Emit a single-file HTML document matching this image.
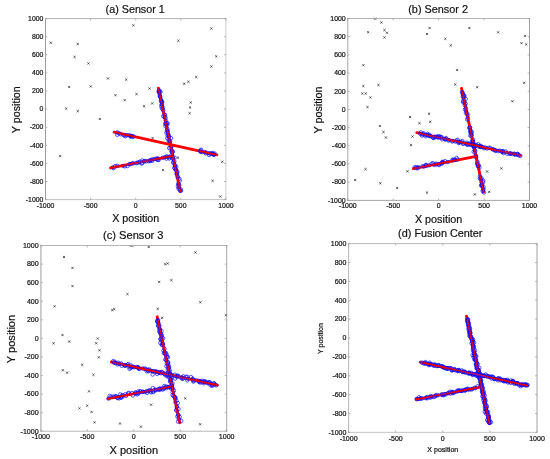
<!DOCTYPE html>
<html><head><meta charset="utf-8"><title>Sensor tracks</title>
<style>html,body{margin:0;padding:0;background:#fff}body{width:550px;height:459px;overflow:hidden}</style></head>
<body>
<svg width="550" height="459" viewBox="0 0 550 459" style="display:block">
<rect width="550" height="459" fill="#fff"/>
<g id="plot-a">
<path d="M49.8 41.7L51.8 43.8M49.8 43.8L51.8 41.7M76.7 43.0L78.8 45.0M76.7 45.0L78.8 43.0M73.5 56.0L75.6 58.0M73.5 58.0L75.6 56.0M87.4 62.4L89.5 64.5M87.4 64.5L89.5 62.4M132.3 24.3L134.5 26.4M132.3 26.4L134.5 24.3M106.9 77.4L109.0 79.5M106.9 79.5L109.0 77.4M125.2 78.5L127.3 80.6M125.2 80.6L127.3 78.5M68.2 86.0L70.2 88.0M68.2 88.0L70.2 86.0M89.7 85.4L91.8 87.5M89.7 87.5L91.8 85.4M114.4 94.2L116.5 96.3M114.4 96.3L116.5 94.2M123.7 99.2L125.8 101.3M123.7 101.3L125.8 99.2M135.4 93.0L137.6 95.1M135.4 95.1L137.6 93.0M65.2 107.5L67.3 109.6M65.2 109.6L67.3 107.5M210.3 27.4L212.5 29.6M210.3 29.6L212.5 27.4M177.3 39.7L179.5 41.8M177.3 41.8L179.5 39.7M215.2 55.4L217.4 57.4M215.2 57.4L217.4 55.4M210.3 65.5L212.5 67.6M210.3 67.6L212.5 65.5M195.2 76.0L197.4 78.1M195.2 78.1L197.4 76.0M187.3 80.7L189.5 82.8M187.3 82.8L189.5 80.7M183.1 82.7L185.2 84.8M183.1 84.8L185.2 82.7M148.4 87.5L150.6 89.5M148.4 89.5L150.6 87.5M189.6 101.4L191.8 103.5M189.6 103.5L191.8 101.4M188.9 106.5L191.1 108.5M188.9 108.5L191.1 106.5M151.1 102.4L153.2 104.5M151.1 104.5L153.2 102.4M143.0 105.2L145.2 107.3M143.0 107.3L145.2 105.2M76.7 110.2L78.8 112.2M76.7 112.2L78.8 110.2M98.8 117.9L100.8 120.0M98.8 120.0L100.8 117.9M59.2 155.0L61.3 157.2M59.2 157.2L61.3 155.0M188.5 112.2L190.7 114.3M188.5 114.3L190.7 112.2M151.5 137.0L153.7 139.2M151.5 139.2L153.7 137.0M176.9 156.5L179.1 158.7M176.9 158.7L179.1 156.5M161.8 168.9L164.0 171.1M161.8 171.1L164.0 168.9M221.2 160.6L223.4 162.8M221.2 162.8L223.4 160.6M211.5 179.8L213.7 181.9M211.5 181.9L213.7 179.8M219.2 195.4L221.4 197.6M219.2 197.6L221.4 195.4" stroke="#222" stroke-width="0.7" fill="none"/>
<line x1="158.4" y1="88.1" x2="180.3" y2="191.3" stroke="#f00" stroke-width="2.9" stroke-linecap="round"/>
<g fill="none" stroke="#0a0aff" stroke-opacity="0.9" stroke-width="0.75">
<circle cx="158.5" cy="91.2" r="1.75"/><circle cx="159.6" cy="90.6" r="1.75"/><circle cx="159.3" cy="91.5" r="1.75"/><circle cx="159.1" cy="92.4" r="1.75"/><circle cx="159.2" cy="92.6" r="1.75"/><circle cx="160.5" cy="92.0" r="1.75"/><circle cx="159.7" cy="95.0" r="1.75"/><circle cx="160.0" cy="96.7" r="1.75"/><circle cx="160.1" cy="96.6" r="1.75"/><circle cx="161.0" cy="99.0" r="1.75"/><circle cx="160.9" cy="101.0" r="1.75"/><circle cx="161.6" cy="101.4" r="1.75"/><circle cx="161.9" cy="102.4" r="1.75"/><circle cx="162.2" cy="102.0" r="1.75"/><circle cx="161.6" cy="104.6" r="1.75"/><circle cx="162.0" cy="104.9" r="1.75"/><circle cx="161.3" cy="106.5" r="1.75"/><circle cx="162.9" cy="107.7" r="1.75"/><circle cx="161.9" cy="108.7" r="1.75"/><circle cx="163.3" cy="110.5" r="1.75"/><circle cx="164.9" cy="114.8" r="1.75"/><circle cx="164.6" cy="115.0" r="1.75"/><circle cx="163.3" cy="116.3" r="1.75"/><circle cx="164.6" cy="117.1" r="1.75"/><circle cx="165.6" cy="117.8" r="1.75"/><circle cx="165.9" cy="120.7" r="1.75"/><circle cx="165.6" cy="123.0" r="1.75"/><circle cx="166.8" cy="123.1" r="1.75"/><circle cx="165.3" cy="124.0" r="1.75"/><circle cx="167.6" cy="123.4" r="1.75"/><circle cx="167.1" cy="125.0" r="1.75"/><circle cx="165.5" cy="126.0" r="1.75"/><circle cx="167.4" cy="128.8" r="1.75"/><circle cx="167.0" cy="130.4" r="1.75"/><circle cx="167.7" cy="130.9" r="1.75"/><circle cx="167.5" cy="131.8" r="1.75"/><circle cx="166.5" cy="132.7" r="1.75"/><circle cx="168.2" cy="134.2" r="1.75"/><circle cx="167.5" cy="135.5" r="1.75"/><circle cx="168.8" cy="135.5" r="1.75"/><circle cx="169.1" cy="136.7" r="1.75"/><circle cx="167.3" cy="138.3" r="1.75"/><circle cx="168.7" cy="139.2" r="1.75"/><circle cx="171.0" cy="138.2" r="1.75"/><circle cx="170.0" cy="141.4" r="1.75"/><circle cx="169.7" cy="141.8" r="1.75"/><circle cx="168.9" cy="141.2" r="1.75"/><circle cx="171.5" cy="146.4" r="1.75"/><circle cx="170.5" cy="147.5" r="1.75"/><circle cx="171.4" cy="146.0" r="1.75"/><circle cx="169.2" cy="148.1" r="1.75"/><circle cx="171.6" cy="150.6" r="1.75"/><circle cx="171.7" cy="151.8" r="1.75"/><circle cx="172.6" cy="151.5" r="1.75"/><circle cx="172.8" cy="151.8" r="1.75"/><circle cx="172.5" cy="156.9" r="1.75"/><circle cx="171.9" cy="154.3" r="1.75"/><circle cx="174.6" cy="157.7" r="1.75"/><circle cx="173.1" cy="158.6" r="1.75"/><circle cx="172.5" cy="158.6" r="1.75"/><circle cx="174.4" cy="161.5" r="1.75"/><circle cx="173.2" cy="162.4" r="1.75"/><circle cx="173.6" cy="162.9" r="1.75"/><circle cx="174.9" cy="165.8" r="1.75"/><circle cx="175.3" cy="165.4" r="1.75"/><circle cx="174.3" cy="168.0" r="1.75"/><circle cx="176.2" cy="167.3" r="1.75"/><circle cx="174.7" cy="168.3" r="1.75"/><circle cx="175.8" cy="169.2" r="1.75"/><circle cx="175.8" cy="170.0" r="1.75"/><circle cx="177.2" cy="171.3" r="1.75"/><circle cx="177.2" cy="172.4" r="1.75"/><circle cx="177.1" cy="173.8" r="1.75"/><circle cx="176.5" cy="173.9" r="1.75"/><circle cx="177.9" cy="176.8" r="1.75"/><circle cx="177.7" cy="177.3" r="1.75"/><circle cx="179.4" cy="178.8" r="1.75"/><circle cx="179.7" cy="180.6" r="1.75"/><circle cx="178.2" cy="183.7" r="1.75"/><circle cx="178.8" cy="184.0" r="1.75"/><circle cx="179.3" cy="185.3" r="1.75"/><circle cx="177.9" cy="186.1" r="1.75"/><circle cx="178.9" cy="187.7" r="1.75"/><circle cx="178.5" cy="188.7" r="1.75"/><circle cx="180.7" cy="189.4" r="1.75"/><circle cx="180.0" cy="190.6" r="1.75"/><circle cx="181.0" cy="190.8" r="1.75"/>
</g>
<g fill="#f00" fill-opacity="0.95">
<circle cx="158.9" cy="90.2" r="1.0"/><circle cx="159.3" cy="92.2" r="1.0"/><circle cx="159.7" cy="94.3" r="1.0"/><circle cx="160.2" cy="96.4" r="1.0"/><circle cx="160.6" cy="98.4" r="1.0"/><circle cx="161.1" cy="100.5" r="1.0"/><circle cx="161.5" cy="102.5" r="1.0"/><circle cx="161.9" cy="104.6" r="1.0"/><circle cx="162.4" cy="106.7" r="1.0"/><circle cx="162.8" cy="108.7" r="1.0"/><circle cx="163.3" cy="110.8" r="1.0"/><circle cx="163.7" cy="112.9" r="1.0"/><circle cx="164.1" cy="114.9" r="1.0"/><circle cx="164.6" cy="117.0" r="1.0"/><circle cx="165.0" cy="119.1" r="1.0"/><circle cx="165.4" cy="121.1" r="1.0"/><circle cx="165.9" cy="123.2" r="1.0"/><circle cx="166.3" cy="125.2" r="1.0"/><circle cx="166.8" cy="127.3" r="1.0"/><circle cx="167.2" cy="129.4" r="1.0"/><circle cx="167.6" cy="131.4" r="1.0"/><circle cx="168.1" cy="133.5" r="1.0"/><circle cx="168.5" cy="135.6" r="1.0"/><circle cx="169.0" cy="137.6" r="1.0"/><circle cx="169.4" cy="139.7" r="1.0"/><circle cx="169.8" cy="141.8" r="1.0"/><circle cx="170.3" cy="143.8" r="1.0"/><circle cx="170.7" cy="145.9" r="1.0"/><circle cx="171.1" cy="147.9" r="1.0"/><circle cx="171.6" cy="150.0" r="1.0"/><circle cx="172.0" cy="152.1" r="1.0"/><circle cx="172.5" cy="154.1" r="1.0"/><circle cx="172.9" cy="156.2" r="1.0"/><circle cx="173.3" cy="158.3" r="1.0"/><circle cx="173.8" cy="160.3" r="1.0"/><circle cx="174.2" cy="162.4" r="1.0"/><circle cx="174.7" cy="164.4" r="1.0"/><circle cx="175.1" cy="166.5" r="1.0"/><circle cx="175.5" cy="168.6" r="1.0"/><circle cx="176.0" cy="170.6" r="1.0"/><circle cx="176.4" cy="172.7" r="1.0"/><circle cx="176.8" cy="174.8" r="1.0"/><circle cx="177.3" cy="176.8" r="1.0"/><circle cx="177.7" cy="178.9" r="1.0"/><circle cx="178.2" cy="181.0" r="1.0"/><circle cx="178.6" cy="183.0" r="1.0"/><circle cx="179.0" cy="185.1" r="1.0"/><circle cx="179.5" cy="187.1" r="1.0"/><circle cx="179.9" cy="189.2" r="1.0"/><circle cx="180.3" cy="191.3" r="1.0"/>
</g>
<line x1="114.1" y1="132.2" x2="216.9" y2="154.8" stroke="#f00" stroke-width="2.9" stroke-linecap="round"/>
<g fill="none" stroke="#0a0aff" stroke-opacity="0.9" stroke-width="0.75">
<circle cx="117.2" cy="132.4" r="1.75"/><circle cx="117.3" cy="134.8" r="1.75"/><circle cx="119.1" cy="133.3" r="1.75"/><circle cx="120.7" cy="134.2" r="1.75"/><circle cx="123.5" cy="135.2" r="1.75"/><circle cx="124.5" cy="135.5" r="1.75"/><circle cx="125.5" cy="136.2" r="1.75"/><circle cx="126.8" cy="135.2" r="1.75"/><circle cx="129.4" cy="135.1" r="1.75"/><circle cx="130.4" cy="136.4" r="1.75"/><circle cx="130.7" cy="136.2" r="1.75"/><circle cx="131.8" cy="136.3" r="1.75"/><circle cx="131.2" cy="136.0" r="1.75"/><circle cx="133.1" cy="136.7" r="1.75"/><circle cx="133.4" cy="136.4" r="1.75"/><circle cx="201.1" cy="149.7" r="1.75"/><circle cx="200.3" cy="151.5" r="1.75"/><circle cx="201.0" cy="151.7" r="1.75"/><circle cx="200.6" cy="150.4" r="1.75"/><circle cx="202.0" cy="152.1" r="1.75"/><circle cx="204.8" cy="152.0" r="1.75"/><circle cx="205.6" cy="153.4" r="1.75"/><circle cx="206.2" cy="152.6" r="1.75"/><circle cx="209.3" cy="153.2" r="1.75"/><circle cx="210.0" cy="153.7" r="1.75"/><circle cx="209.1" cy="155.0" r="1.75"/><circle cx="212.7" cy="154.0" r="1.75"/><circle cx="211.4" cy="153.6" r="1.75"/><circle cx="212.4" cy="153.0" r="1.75"/><circle cx="212.8" cy="153.8" r="1.75"/><circle cx="213.7" cy="154.7" r="1.75"/><circle cx="214.1" cy="154.8" r="1.75"/><circle cx="214.5" cy="153.5" r="1.75"/>
</g>
<g fill="#f00" fill-opacity="0.95">
<circle cx="116.1" cy="132.6" r="1.0"/><circle cx="118.2" cy="133.1" r="1.0"/><circle cx="120.2" cy="133.5" r="1.0"/><circle cx="122.3" cy="134.0" r="1.0"/><circle cx="124.3" cy="134.4" r="1.0"/><circle cx="126.4" cy="134.9" r="1.0"/><circle cx="128.4" cy="135.3" r="1.0"/><circle cx="130.5" cy="135.8" r="1.0"/><circle cx="132.6" cy="136.2" r="1.0"/><circle cx="134.6" cy="136.7" r="1.0"/><circle cx="200.4" cy="151.2" r="1.0"/><circle cx="202.5" cy="151.6" r="1.0"/><circle cx="204.5" cy="152.1" r="1.0"/><circle cx="206.6" cy="152.5" r="1.0"/><circle cx="208.7" cy="153.0" r="1.0"/><circle cx="210.7" cy="153.4" r="1.0"/><circle cx="212.8" cy="153.9" r="1.0"/><circle cx="214.8" cy="154.3" r="1.0"/>
</g>
<line x1="110.6" y1="167.9" x2="170.4" y2="156.3" stroke="#f00" stroke-width="2.9" stroke-linecap="round"/>
<g fill="none" stroke="#0a0aff" stroke-opacity="0.9" stroke-width="0.75">
<circle cx="115.2" cy="166.1" r="1.75"/><circle cx="112.9" cy="167.3" r="1.75"/><circle cx="113.5" cy="168.1" r="1.75"/><circle cx="117.2" cy="165.8" r="1.75"/><circle cx="123.1" cy="165.9" r="1.75"/><circle cx="124.8" cy="166.3" r="1.75"/><circle cx="127.4" cy="166.0" r="1.75"/><circle cx="130.0" cy="164.1" r="1.75"/><circle cx="132.5" cy="163.6" r="1.75"/><circle cx="129.8" cy="164.1" r="1.75"/><circle cx="133.1" cy="163.0" r="1.75"/><circle cx="136.6" cy="163.2" r="1.75"/><circle cx="137.4" cy="162.6" r="1.75"/><circle cx="139.3" cy="162.3" r="1.75"/><circle cx="139.9" cy="161.5" r="1.75"/><circle cx="142.2" cy="162.9" r="1.75"/><circle cx="141.6" cy="163.6" r="1.75"/><circle cx="142.4" cy="160.5" r="1.75"/><circle cx="144.1" cy="161.4" r="1.75"/><circle cx="144.7" cy="161.0" r="1.75"/><circle cx="146.3" cy="161.4" r="1.75"/><circle cx="148.7" cy="161.2" r="1.75"/><circle cx="150.0" cy="161.1" r="1.75"/><circle cx="150.9" cy="160.0" r="1.75"/><circle cx="152.5" cy="159.3" r="1.75"/><circle cx="150.4" cy="160.2" r="1.75"/><circle cx="152.2" cy="160.9" r="1.75"/><circle cx="154.4" cy="159.0" r="1.75"/><circle cx="156.2" cy="158.6" r="1.75"/><circle cx="157.8" cy="159.9" r="1.75"/><circle cx="157.2" cy="159.4" r="1.75"/><circle cx="157.9" cy="158.3" r="1.75"/><circle cx="158.6" cy="160.1" r="1.75"/><circle cx="162.7" cy="157.8" r="1.75"/><circle cx="166.4" cy="158.7" r="1.75"/><circle cx="166.3" cy="156.5" r="1.75"/><circle cx="164.8" cy="157.3" r="1.75"/><circle cx="167.1" cy="156.7" r="1.75"/><circle cx="169.5" cy="156.7" r="1.75"/><circle cx="169.4" cy="157.2" r="1.75"/><circle cx="169.3" cy="158.5" r="1.75"/>
</g>
<g fill="#f00" fill-opacity="0.95">
<circle cx="110.6" cy="167.9" r="1.0"/><circle cx="112.7" cy="167.5" r="1.0"/><circle cx="114.7" cy="167.1" r="1.0"/><circle cx="116.8" cy="166.7" r="1.0"/><circle cx="118.9" cy="166.3" r="1.0"/><circle cx="120.9" cy="165.9" r="1.0"/><circle cx="123.0" cy="165.5" r="1.0"/><circle cx="125.1" cy="165.1" r="1.0"/><circle cx="127.1" cy="164.7" r="1.0"/><circle cx="129.2" cy="164.3" r="1.0"/><circle cx="131.2" cy="163.9" r="1.0"/><circle cx="133.3" cy="163.5" r="1.0"/><circle cx="135.4" cy="163.1" r="1.0"/><circle cx="137.4" cy="162.7" r="1.0"/><circle cx="139.5" cy="162.3" r="1.0"/><circle cx="141.6" cy="161.9" r="1.0"/><circle cx="143.6" cy="161.5" r="1.0"/><circle cx="145.7" cy="161.1" r="1.0"/><circle cx="147.7" cy="160.7" r="1.0"/><circle cx="149.8" cy="160.3" r="1.0"/><circle cx="151.9" cy="159.9" r="1.0"/><circle cx="153.9" cy="159.5" r="1.0"/><circle cx="156.0" cy="159.1" r="1.0"/><circle cx="158.1" cy="158.7" r="1.0"/><circle cx="160.1" cy="158.3" r="1.0"/><circle cx="162.2" cy="157.9" r="1.0"/><circle cx="164.2" cy="157.5" r="1.0"/><circle cx="166.3" cy="157.1" r="1.0"/><circle cx="168.4" cy="156.7" r="1.0"/><circle cx="170.4" cy="156.3" r="1.0"/>
</g>
<line x1="45.5" y1="18.6" x2="45.5" y2="199.6" stroke="#8a8a8a" stroke-width="0.85" stroke-linecap="square"/>
<line x1="45.5" y1="18.6" x2="225.9" y2="18.6" stroke="#a6a6a6" stroke-width="0.85" stroke-linecap="square"/>
<line x1="225.9" y1="18.6" x2="225.9" y2="199.6" stroke="#c4c4c4" stroke-width="0.9" stroke-linecap="square"/>
<line x1="45.5" y1="199.6" x2="225.9" y2="199.6" stroke="#bcbcbc" stroke-width="0.9" stroke-linecap="square"/>
<path d="M45.5 199.6V197.7M45.5 18.6V20.5M90.6 199.6V197.7M90.6 18.6V20.5M135.7 199.6V197.7M135.7 18.6V20.5M180.8 199.6V197.7M180.8 18.6V20.5M225.9 199.6V197.7M225.9 18.6V20.5M45.5 199.6H47.4M225.9 199.6H224.0M45.5 181.5H47.4M225.9 181.5H224.0M45.5 163.4H47.4M225.9 163.4H224.0M45.5 145.3H47.4M225.9 145.3H224.0M45.5 127.2H47.4M225.9 127.2H224.0M45.5 109.1H47.4M225.9 109.1H224.0M45.5 91.0H47.4M225.9 91.0H224.0M45.5 72.9H47.4M225.9 72.9H224.0M45.5 54.8H47.4M225.9 54.8H224.0M45.5 36.7H47.4M225.9 36.7H224.0M45.5 18.6H47.4M225.9 18.6H224.0" stroke="#a0a0a0" stroke-width="0.75" fill="none"/>
<g font-family='"Liberation Sans", Arial, sans-serif' font-size="6.88" fill="#111" stroke="#111" stroke-width="0.2">
<text x="45.5" y="207.6" text-anchor="middle">-1000</text>
<text x="90.6" y="207.6" text-anchor="middle">-500</text>
<text x="135.7" y="207.6" text-anchor="middle">0</text>
<text x="180.8" y="207.6" text-anchor="middle">500</text>
<text x="225.9" y="207.6" text-anchor="middle">1000</text>
<text x="43.4" y="201.8" text-anchor="end">-1000</text>
<text x="43.4" y="183.7" text-anchor="end">-800</text>
<text x="43.4" y="165.6" text-anchor="end">-600</text>
<text x="43.4" y="147.5" text-anchor="end">-400</text>
<text x="43.4" y="129.4" text-anchor="end">-200</text>
<text x="43.4" y="111.3" text-anchor="end">0</text>
<text x="43.4" y="93.2" text-anchor="end">200</text>
<text x="43.4" y="75.1" text-anchor="end">400</text>
<text x="43.4" y="57.0" text-anchor="end">600</text>
<text x="43.4" y="38.9" text-anchor="end">800</text>
<text x="43.4" y="20.8" text-anchor="end">1000</text>
</g>
<text x="135.2" y="12.6" text-anchor="middle" font-family='"Liberation Sans", Arial, sans-serif' font-size="10.78" fill="#111" stroke="#111" stroke-width="0.2">(a) Sensor 1</text>
<text x="135.7" y="221.9" text-anchor="middle" font-family='"Liberation Sans", Arial, sans-serif' font-size="10.73" fill="#111" stroke="#111" stroke-width="0.2">X position</text>
<text transform="translate(19.6 109.7) rotate(-90)" text-anchor="middle" font-family='"Liberation Sans", Arial, sans-serif' font-size="10.73" fill="#111" stroke="#111" stroke-width="0.2">Y position</text>
</g>
<g id="plot-b">
<path d="M374.1 17.6L376.2 19.8M374.1 19.8L376.2 17.6M380.3 21.4L382.4 23.6M380.3 23.6L382.4 21.4M367.1 31.2L369.2 33.2M367.1 33.2L369.2 31.2M383.4 29.1L385.6 31.2M383.4 31.2L385.6 29.1M385.8 31.7L387.9 33.8M385.8 33.8L387.9 31.7M383.4 36.4L385.6 38.4M383.4 38.4L385.6 36.4M428.6 26.9L430.7 29.1M428.6 29.1L430.7 26.9M425.9 33.0L428.1 35.0M425.9 35.0L428.1 33.0M362.3 64.2L364.4 66.3M362.3 66.3L364.4 64.2M362.3 85.0L364.4 87.0M362.3 87.0L364.4 85.0M377.4 84.0L379.6 86.0M377.4 86.0L379.6 84.0M361.3 92.5L363.4 94.5M361.3 94.5L363.4 92.5M364.6 92.5L366.8 94.5M364.6 94.5L366.8 92.5M369.3 96.4L371.4 98.5M369.3 98.5L371.4 96.4M366.4 106.0L368.6 108.1M366.4 108.1L368.6 106.0M468.3 26.9L470.4 29.1M468.3 29.1L470.4 26.9M497.1 31.3L499.2 33.4M497.1 33.4L499.2 31.3M524.1 34.9L526.1 36.9M524.1 36.9L526.1 34.9M520.5 42.2L522.5 44.2M520.5 44.2L522.5 42.2M525.2 43.4L527.3 45.4M525.2 45.4L527.3 43.4M444.3 37.8L446.4 39.8M444.3 39.8L446.4 37.8M449.6 44.4L451.8 46.4M449.6 46.4L451.8 44.4M456.1 68.9L458.2 71.0M456.1 71.0L458.2 68.9M454.2 83.4L456.4 85.5M454.2 85.5L456.4 83.4M476.1 86.2L478.2 88.3M476.1 88.3L478.2 86.2M523.2 81.7L525.2 83.8M523.2 83.8L525.2 81.7M511.3 100.2L513.4 102.3M511.3 102.3L513.4 100.2M378.8 125.0L380.9 127.1M378.8 127.1L380.9 125.0M382.4 131.0L384.6 133.2M382.4 133.2L384.6 131.0M384.8 136.4L386.9 138.6M384.8 138.6L386.9 136.4M408.9 116.0L411.1 118.0M408.9 118.0L411.1 116.0M418.4 122.2L420.6 124.2M418.4 124.2L420.6 122.2M427.9 112.7L430.1 114.8M427.9 114.8L430.1 112.7M429.2 120.8L431.4 122.8M429.2 122.8L431.4 120.8M411.4 135.4L413.6 137.6M411.4 137.6L413.6 135.4M409.9 144.1L412.1 146.2M409.9 146.2L412.1 144.1M364.4 168.1L366.6 170.2M364.4 170.2L366.6 168.1M354.1 178.9L356.2 181.1M354.1 181.1L356.2 178.9M379.3 182.2L381.4 184.4M379.3 184.4L381.4 182.2M406.4 170.2L408.6 172.4M406.4 172.4L408.6 170.2M396.1 186.9L398.2 189.1M396.1 189.1L398.2 186.9M425.9 191.5L428.1 193.7M425.9 193.7L428.1 191.5M486.1 170.4L488.2 172.6M486.1 172.6L488.2 170.4M500.2 167.3L502.4 169.5M500.2 169.5L502.4 167.3M488.1 190.8L490.2 192.9M488.1 192.9L490.2 190.8M473.8 193.3L475.9 195.5M473.8 195.5L475.9 193.3" stroke="#222" stroke-width="0.7" fill="none"/>
<line x1="461.5" y1="88.3" x2="483.6" y2="192.0" stroke="#f00" stroke-width="2.9" stroke-linecap="round"/>
<g fill="none" stroke="#0a0aff" stroke-opacity="0.9" stroke-width="0.75">
<circle cx="462.0" cy="92.2" r="1.75"/><circle cx="462.7" cy="92.7" r="1.75"/><circle cx="462.8" cy="94.2" r="1.75"/><circle cx="463.9" cy="95.5" r="1.75"/><circle cx="463.4" cy="96.1" r="1.75"/><circle cx="462.9" cy="96.6" r="1.75"/><circle cx="464.3" cy="95.9" r="1.75"/><circle cx="463.8" cy="98.5" r="1.75"/><circle cx="465.7" cy="98.9" r="1.75"/><circle cx="463.0" cy="101.2" r="1.75"/><circle cx="464.5" cy="102.1" r="1.75"/><circle cx="463.2" cy="102.4" r="1.75"/><circle cx="464.8" cy="105.2" r="1.75"/><circle cx="465.6" cy="103.7" r="1.75"/><circle cx="466.0" cy="108.1" r="1.75"/><circle cx="465.0" cy="109.3" r="1.75"/><circle cx="465.9" cy="110.8" r="1.75"/><circle cx="465.9" cy="113.0" r="1.75"/><circle cx="467.3" cy="113.3" r="1.75"/><circle cx="467.6" cy="115.2" r="1.75"/><circle cx="467.8" cy="117.8" r="1.75"/><circle cx="467.2" cy="119.6" r="1.75"/><circle cx="469.9" cy="127.3" r="1.75"/><circle cx="469.2" cy="127.8" r="1.75"/><circle cx="470.1" cy="127.7" r="1.75"/><circle cx="470.3" cy="132.3" r="1.75"/><circle cx="470.3" cy="130.5" r="1.75"/><circle cx="470.6" cy="131.0" r="1.75"/><circle cx="470.9" cy="133.5" r="1.75"/><circle cx="471.8" cy="131.8" r="1.75"/><circle cx="471.8" cy="134.6" r="1.75"/><circle cx="471.4" cy="135.9" r="1.75"/><circle cx="470.3" cy="135.7" r="1.75"/><circle cx="472.0" cy="141.0" r="1.75"/><circle cx="472.9" cy="139.8" r="1.75"/><circle cx="473.1" cy="141.6" r="1.75"/><circle cx="473.2" cy="142.6" r="1.75"/><circle cx="472.7" cy="143.3" r="1.75"/><circle cx="472.5" cy="142.8" r="1.75"/><circle cx="472.7" cy="145.1" r="1.75"/><circle cx="473.2" cy="145.2" r="1.75"/><circle cx="473.6" cy="145.9" r="1.75"/><circle cx="473.2" cy="145.6" r="1.75"/><circle cx="473.9" cy="147.5" r="1.75"/><circle cx="474.1" cy="147.1" r="1.75"/><circle cx="475.2" cy="151.4" r="1.75"/><circle cx="474.8" cy="150.1" r="1.75"/><circle cx="473.7" cy="151.8" r="1.75"/><circle cx="475.7" cy="155.2" r="1.75"/><circle cx="476.2" cy="157.2" r="1.75"/><circle cx="475.7" cy="156.9" r="1.75"/><circle cx="477.5" cy="161.7" r="1.75"/><circle cx="477.2" cy="163.8" r="1.75"/><circle cx="477.3" cy="163.3" r="1.75"/><circle cx="479.0" cy="165.6" r="1.75"/><circle cx="477.8" cy="166.2" r="1.75"/><circle cx="478.2" cy="165.8" r="1.75"/><circle cx="479.4" cy="167.7" r="1.75"/><circle cx="479.9" cy="176.5" r="1.75"/><circle cx="481.6" cy="178.3" r="1.75"/><circle cx="480.8" cy="178.9" r="1.75"/><circle cx="479.9" cy="178.5" r="1.75"/><circle cx="483.2" cy="180.7" r="1.75"/><circle cx="481.3" cy="181.8" r="1.75"/><circle cx="483.1" cy="182.3" r="1.75"/><circle cx="482.2" cy="184.8" r="1.75"/><circle cx="481.1" cy="185.2" r="1.75"/><circle cx="481.7" cy="186.0" r="1.75"/><circle cx="481.9" cy="185.4" r="1.75"/><circle cx="483.5" cy="187.1" r="1.75"/><circle cx="483.3" cy="188.9" r="1.75"/><circle cx="483.3" cy="190.3" r="1.75"/><circle cx="482.6" cy="190.9" r="1.75"/><circle cx="483.9" cy="192.5" r="1.75"/>
</g>
<g fill="#f00" fill-opacity="0.95">
<circle cx="462.4" cy="92.5" r="1.0"/><circle cx="462.9" cy="94.5" r="1.0"/><circle cx="463.3" cy="96.6" r="1.0"/><circle cx="463.7" cy="98.6" r="1.0"/><circle cx="464.2" cy="100.7" r="1.0"/><circle cx="464.6" cy="102.8" r="1.0"/><circle cx="465.1" cy="104.8" r="1.0"/><circle cx="465.5" cy="106.9" r="1.0"/><circle cx="465.9" cy="108.9" r="1.0"/><circle cx="466.4" cy="111.0" r="1.0"/><circle cx="466.8" cy="113.1" r="1.0"/><circle cx="467.2" cy="115.1" r="1.0"/><circle cx="467.7" cy="117.2" r="1.0"/><circle cx="468.1" cy="119.2" r="1.0"/><circle cx="469.4" cy="125.4" r="1.0"/><circle cx="469.9" cy="127.5" r="1.0"/><circle cx="470.3" cy="129.5" r="1.0"/><circle cx="470.8" cy="131.6" r="1.0"/><circle cx="471.2" cy="133.7" r="1.0"/><circle cx="471.6" cy="135.7" r="1.0"/><circle cx="472.1" cy="137.8" r="1.0"/><circle cx="472.5" cy="139.8" r="1.0"/><circle cx="472.9" cy="141.9" r="1.0"/><circle cx="473.4" cy="144.0" r="1.0"/><circle cx="473.8" cy="146.0" r="1.0"/><circle cx="474.3" cy="148.1" r="1.0"/><circle cx="474.7" cy="150.1" r="1.0"/><circle cx="475.1" cy="152.2" r="1.0"/><circle cx="475.6" cy="154.3" r="1.0"/><circle cx="476.0" cy="156.3" r="1.0"/><circle cx="476.5" cy="158.4" r="1.0"/><circle cx="476.9" cy="160.4" r="1.0"/><circle cx="477.3" cy="162.5" r="1.0"/><circle cx="477.8" cy="164.6" r="1.0"/><circle cx="478.2" cy="166.6" r="1.0"/><circle cx="478.6" cy="168.7" r="1.0"/><circle cx="480.4" cy="176.9" r="1.0"/><circle cx="480.8" cy="179.0" r="1.0"/><circle cx="481.3" cy="181.0" r="1.0"/><circle cx="481.7" cy="183.1" r="1.0"/><circle cx="482.2" cy="185.2" r="1.0"/><circle cx="482.6" cy="187.2" r="1.0"/><circle cx="483.0" cy="189.3" r="1.0"/><circle cx="483.5" cy="191.3" r="1.0"/>
</g>
<line x1="416.8" y1="132.6" x2="520.4" y2="155.4" stroke="#f00" stroke-width="2.9" stroke-linecap="round"/>
<g fill="none" stroke="#0a0aff" stroke-opacity="0.9" stroke-width="0.75">
<circle cx="420.3" cy="133.8" r="1.75"/><circle cx="420.8" cy="132.4" r="1.75"/><circle cx="422.5" cy="134.5" r="1.75"/><circle cx="423.0" cy="133.9" r="1.75"/><circle cx="423.6" cy="133.4" r="1.75"/><circle cx="422.0" cy="135.6" r="1.75"/><circle cx="426.2" cy="135.1" r="1.75"/><circle cx="425.5" cy="136.3" r="1.75"/><circle cx="425.7" cy="134.9" r="1.75"/><circle cx="427.9" cy="135.1" r="1.75"/><circle cx="427.4" cy="133.8" r="1.75"/><circle cx="428.8" cy="134.7" r="1.75"/><circle cx="430.3" cy="136.0" r="1.75"/><circle cx="430.3" cy="136.0" r="1.75"/><circle cx="429.2" cy="136.1" r="1.75"/><circle cx="433.0" cy="137.6" r="1.75"/><circle cx="433.5" cy="138.1" r="1.75"/><circle cx="433.2" cy="137.2" r="1.75"/><circle cx="434.8" cy="136.7" r="1.75"/><circle cx="434.7" cy="137.4" r="1.75"/><circle cx="437.5" cy="137.3" r="1.75"/><circle cx="437.8" cy="136.9" r="1.75"/><circle cx="436.5" cy="136.7" r="1.75"/><circle cx="438.6" cy="136.1" r="1.75"/><circle cx="439.1" cy="137.7" r="1.75"/><circle cx="440.1" cy="136.6" r="1.75"/><circle cx="441.5" cy="137.1" r="1.75"/><circle cx="440.9" cy="137.4" r="1.75"/><circle cx="442.1" cy="139.3" r="1.75"/><circle cx="444.2" cy="138.8" r="1.75"/><circle cx="445.0" cy="139.2" r="1.75"/><circle cx="445.4" cy="139.5" r="1.75"/><circle cx="446.2" cy="138.2" r="1.75"/><circle cx="446.1" cy="138.9" r="1.75"/><circle cx="448.5" cy="140.5" r="1.75"/><circle cx="448.9" cy="140.1" r="1.75"/><circle cx="452.2" cy="141.4" r="1.75"/><circle cx="452.7" cy="141.0" r="1.75"/><circle cx="456.5" cy="140.5" r="1.75"/><circle cx="455.5" cy="141.6" r="1.75"/><circle cx="457.7" cy="139.8" r="1.75"/><circle cx="458.9" cy="141.8" r="1.75"/><circle cx="458.7" cy="142.3" r="1.75"/><circle cx="458.7" cy="143.0" r="1.75"/><circle cx="460.3" cy="142.3" r="1.75"/><circle cx="461.0" cy="141.8" r="1.75"/><circle cx="462.3" cy="141.1" r="1.75"/><circle cx="463.2" cy="144.0" r="1.75"/><circle cx="463.5" cy="143.1" r="1.75"/><circle cx="466.8" cy="142.7" r="1.75"/><circle cx="467.3" cy="144.3" r="1.75"/><circle cx="466.3" cy="143.8" r="1.75"/><circle cx="467.3" cy="144.8" r="1.75"/><circle cx="468.9" cy="144.3" r="1.75"/><circle cx="469.2" cy="143.5" r="1.75"/><circle cx="470.0" cy="144.7" r="1.75"/><circle cx="470.9" cy="144.4" r="1.75"/><circle cx="472.1" cy="144.5" r="1.75"/><circle cx="473.4" cy="145.2" r="1.75"/><circle cx="474.1" cy="145.5" r="1.75"/><circle cx="474.9" cy="146.7" r="1.75"/><circle cx="474.7" cy="145.6" r="1.75"/><circle cx="474.0" cy="146.2" r="1.75"/><circle cx="476.0" cy="145.6" r="1.75"/><circle cx="476.4" cy="145.0" r="1.75"/><circle cx="478.2" cy="144.3" r="1.75"/><circle cx="478.4" cy="146.4" r="1.75"/><circle cx="479.7" cy="145.9" r="1.75"/><circle cx="479.8" cy="146.5" r="1.75"/><circle cx="480.4" cy="147.0" r="1.75"/><circle cx="480.9" cy="145.9" r="1.75"/><circle cx="481.5" cy="147.0" r="1.75"/><circle cx="482.9" cy="147.1" r="1.75"/><circle cx="484.2" cy="148.2" r="1.75"/><circle cx="485.3" cy="147.6" r="1.75"/><circle cx="487.1" cy="148.5" r="1.75"/><circle cx="488.8" cy="147.7" r="1.75"/><circle cx="490.1" cy="147.9" r="1.75"/><circle cx="492.7" cy="149.2" r="1.75"/><circle cx="492.9" cy="149.4" r="1.75"/><circle cx="494.9" cy="149.9" r="1.75"/><circle cx="495.1" cy="150.4" r="1.75"/><circle cx="495.6" cy="150.9" r="1.75"/><circle cx="498.0" cy="151.1" r="1.75"/><circle cx="499.6" cy="150.6" r="1.75"/><circle cx="502.2" cy="151.7" r="1.75"/><circle cx="501.6" cy="151.6" r="1.75"/><circle cx="503.4" cy="153.1" r="1.75"/><circle cx="503.4" cy="151.8" r="1.75"/><circle cx="503.0" cy="151.1" r="1.75"/><circle cx="505.7" cy="151.5" r="1.75"/><circle cx="507.2" cy="153.7" r="1.75"/><circle cx="510.5" cy="153.3" r="1.75"/><circle cx="509.5" cy="153.8" r="1.75"/><circle cx="510.4" cy="153.7" r="1.75"/><circle cx="512.3" cy="153.9" r="1.75"/><circle cx="514.4" cy="153.7" r="1.75"/><circle cx="514.9" cy="154.1" r="1.75"/><circle cx="517.6" cy="153.9" r="1.75"/><circle cx="515.3" cy="154.9" r="1.75"/><circle cx="517.6" cy="154.0" r="1.75"/><circle cx="517.5" cy="154.5" r="1.75"/><circle cx="518.7" cy="155.2" r="1.75"/><circle cx="520.3" cy="155.9" r="1.75"/>
</g>
<g fill="#f00" fill-opacity="0.95">
<circle cx="421.0" cy="133.5" r="1.0"/><circle cx="423.0" cy="134.0" r="1.0"/><circle cx="425.1" cy="134.4" r="1.0"/><circle cx="427.1" cy="134.9" r="1.0"/><circle cx="429.2" cy="135.4" r="1.0"/><circle cx="431.2" cy="135.8" r="1.0"/><circle cx="433.3" cy="136.3" r="1.0"/><circle cx="435.4" cy="136.7" r="1.0"/><circle cx="437.4" cy="137.2" r="1.0"/><circle cx="439.5" cy="137.6" r="1.0"/><circle cx="441.5" cy="138.1" r="1.0"/><circle cx="443.6" cy="138.5" r="1.0"/><circle cx="445.7" cy="139.0" r="1.0"/><circle cx="447.7" cy="139.4" r="1.0"/><circle cx="449.8" cy="139.9" r="1.0"/><circle cx="451.8" cy="140.3" r="1.0"/><circle cx="453.9" cy="140.8" r="1.0"/><circle cx="455.9" cy="141.2" r="1.0"/><circle cx="458.0" cy="141.7" r="1.0"/><circle cx="460.1" cy="142.1" r="1.0"/><circle cx="462.1" cy="142.6" r="1.0"/><circle cx="464.2" cy="143.0" r="1.0"/><circle cx="466.2" cy="143.5" r="1.0"/><circle cx="468.3" cy="143.9" r="1.0"/><circle cx="470.3" cy="144.4" r="1.0"/><circle cx="472.4" cy="144.8" r="1.0"/><circle cx="474.5" cy="145.3" r="1.0"/><circle cx="476.5" cy="145.7" r="1.0"/><circle cx="478.6" cy="146.2" r="1.0"/><circle cx="480.6" cy="146.6" r="1.0"/><circle cx="482.7" cy="147.1" r="1.0"/><circle cx="484.7" cy="147.5" r="1.0"/><circle cx="486.8" cy="148.0" r="1.0"/><circle cx="488.9" cy="148.5" r="1.0"/><circle cx="490.9" cy="148.9" r="1.0"/><circle cx="493.0" cy="149.4" r="1.0"/><circle cx="495.0" cy="149.8" r="1.0"/><circle cx="497.1" cy="150.3" r="1.0"/><circle cx="499.2" cy="150.7" r="1.0"/><circle cx="501.2" cy="151.2" r="1.0"/><circle cx="503.3" cy="151.6" r="1.0"/><circle cx="505.3" cy="152.1" r="1.0"/><circle cx="507.4" cy="152.5" r="1.0"/><circle cx="509.4" cy="153.0" r="1.0"/><circle cx="511.5" cy="153.4" r="1.0"/><circle cx="513.6" cy="153.9" r="1.0"/><circle cx="515.6" cy="154.3" r="1.0"/><circle cx="517.7" cy="154.8" r="1.0"/><circle cx="519.7" cy="155.2" r="1.0"/>
</g>
<line x1="413.4" y1="168.6" x2="473.6" y2="156.9" stroke="#f00" stroke-width="2.9" stroke-linecap="round"/>
<g fill="none" stroke="#0a0aff" stroke-opacity="0.9" stroke-width="0.75">
<circle cx="414.7" cy="167.4" r="1.75"/><circle cx="416.0" cy="167.3" r="1.75"/><circle cx="417.4" cy="168.4" r="1.75"/><circle cx="417.3" cy="167.5" r="1.75"/><circle cx="418.6" cy="167.3" r="1.75"/><circle cx="422.7" cy="166.1" r="1.75"/><circle cx="423.7" cy="166.7" r="1.75"/><circle cx="426.1" cy="166.0" r="1.75"/><circle cx="426.1" cy="164.9" r="1.75"/><circle cx="425.9" cy="165.2" r="1.75"/><circle cx="429.0" cy="165.3" r="1.75"/><circle cx="431.7" cy="163.7" r="1.75"/><circle cx="432.9" cy="163.2" r="1.75"/><circle cx="434.1" cy="164.8" r="1.75"/><circle cx="436.1" cy="164.5" r="1.75"/><circle cx="436.1" cy="163.7" r="1.75"/><circle cx="439.1" cy="164.4" r="1.75"/><circle cx="438.3" cy="164.1" r="1.75"/><circle cx="439.1" cy="165.0" r="1.75"/><circle cx="441.5" cy="163.5" r="1.75"/><circle cx="441.9" cy="163.3" r="1.75"/><circle cx="442.4" cy="161.8" r="1.75"/><circle cx="442.4" cy="162.3" r="1.75"/><circle cx="443.2" cy="162.1" r="1.75"/><circle cx="445.1" cy="161.2" r="1.75"/><circle cx="447.9" cy="162.1" r="1.75"/><circle cx="452.4" cy="160.6" r="1.75"/><circle cx="452.6" cy="159.7" r="1.75"/><circle cx="454.5" cy="159.8" r="1.75"/><circle cx="453.9" cy="159.9" r="1.75"/><circle cx="455.0" cy="159.7" r="1.75"/><circle cx="456.7" cy="158.0" r="1.75"/><circle cx="457.5" cy="159.6" r="1.75"/>
</g>
<g fill="#f00" fill-opacity="0.95">
<circle cx="413.4" cy="168.6" r="1.0"/><circle cx="415.5" cy="168.2" r="1.0"/><circle cx="417.5" cy="167.8" r="1.0"/><circle cx="419.6" cy="167.4" r="1.0"/><circle cx="421.7" cy="167.0" r="1.0"/><circle cx="423.8" cy="166.6" r="1.0"/><circle cx="425.9" cy="166.2" r="1.0"/><circle cx="427.9" cy="165.8" r="1.0"/><circle cx="430.0" cy="165.4" r="1.0"/><circle cx="432.1" cy="165.0" r="1.0"/><circle cx="434.2" cy="164.6" r="1.0"/><circle cx="436.2" cy="164.2" r="1.0"/><circle cx="438.3" cy="163.8" r="1.0"/><circle cx="440.4" cy="163.3" r="1.0"/><circle cx="442.5" cy="162.9" r="1.0"/><circle cx="444.5" cy="162.5" r="1.0"/><circle cx="446.6" cy="162.1" r="1.0"/><circle cx="448.7" cy="161.7" r="1.0"/><circle cx="450.8" cy="161.3" r="1.0"/><circle cx="452.9" cy="160.9" r="1.0"/><circle cx="454.9" cy="160.5" r="1.0"/><circle cx="457.0" cy="160.1" r="1.0"/><circle cx="459.1" cy="159.7" r="1.0"/>
</g>
<line x1="347.8" y1="18.5" x2="347.8" y2="200.4" stroke="#969696" stroke-width="0.85" stroke-linecap="square"/>
<line x1="347.8" y1="18.5" x2="529.5" y2="18.5" stroke="#a6a6a6" stroke-width="0.85" stroke-linecap="square"/>
<line x1="529.5" y1="18.5" x2="529.5" y2="200.4" stroke="#8a8a8a" stroke-width="0.85" stroke-linecap="square"/>
<line x1="347.8" y1="200.4" x2="529.5" y2="200.4" stroke="#969696" stroke-width="0.85" stroke-linecap="square"/>
<path d="M347.8 200.4V198.5M347.8 18.5V20.4M393.2 200.4V198.5M393.2 18.5V20.4M438.6 200.4V198.5M438.6 18.5V20.4M484.1 200.4V198.5M484.1 18.5V20.4M529.5 200.4V198.5M529.5 18.5V20.4M347.8 200.4H349.7M529.5 200.4H527.6M347.8 182.2H349.7M529.5 182.2H527.6M347.8 164.0H349.7M529.5 164.0H527.6M347.8 145.8H349.7M529.5 145.8H527.6M347.8 127.6H349.7M529.5 127.6H527.6M347.8 109.5H349.7M529.5 109.5H527.6M347.8 91.3H349.7M529.5 91.3H527.6M347.8 73.1H349.7M529.5 73.1H527.6M347.8 54.9H349.7M529.5 54.9H527.6M347.8 36.7H349.7M529.5 36.7H527.6M347.8 18.5H349.7M529.5 18.5H527.6" stroke="#a0a0a0" stroke-width="0.75" fill="none"/>
<g font-family='"Liberation Sans", Arial, sans-serif' font-size="6.93" fill="#111" stroke="#111" stroke-width="0.2">
<text x="347.8" y="208.4" text-anchor="middle">-1000</text>
<text x="393.2" y="208.4" text-anchor="middle">-500</text>
<text x="438.6" y="208.4" text-anchor="middle">0</text>
<text x="484.1" y="208.4" text-anchor="middle">500</text>
<text x="529.5" y="208.4" text-anchor="middle">1000</text>
<text x="345.7" y="202.6" text-anchor="end">-1000</text>
<text x="345.7" y="184.4" text-anchor="end">-800</text>
<text x="345.7" y="166.2" text-anchor="end">-600</text>
<text x="345.7" y="148.0" text-anchor="end">-400</text>
<text x="345.7" y="129.9" text-anchor="end">-200</text>
<text x="345.7" y="111.7" text-anchor="end">0</text>
<text x="345.7" y="93.5" text-anchor="end">200</text>
<text x="345.7" y="75.3" text-anchor="end">400</text>
<text x="345.7" y="57.1" text-anchor="end">600</text>
<text x="345.7" y="38.9" text-anchor="end">800</text>
<text x="345.7" y="20.7" text-anchor="end">1000</text>
</g>
<text x="438.1" y="12.5" text-anchor="middle" font-family='"Liberation Sans", Arial, sans-serif' font-size="10.85" fill="#111" stroke="#111" stroke-width="0.2">(b) Sensor 2</text>
<text x="438.6" y="222.8" text-anchor="middle" font-family='"Liberation Sans", Arial, sans-serif' font-size="10.80" fill="#111" stroke="#111" stroke-width="0.2">X position</text>
<text transform="translate(321.7 110.0) rotate(-90)" text-anchor="middle" font-family='"Liberation Sans", Arial, sans-serif' font-size="10.80" fill="#111" stroke="#111" stroke-width="0.2">Y position</text>
</g>
<g id="plot-c">
<path d="M63.0 255.9L65.0 258.1M63.0 258.1L65.0 255.9M71.5 266.8L73.5 268.9M71.5 268.9L73.5 266.8M71.5 285.1L73.5 287.2M71.5 287.2L73.5 285.1M53.6 305.3L55.6 307.4M53.6 307.4L55.6 305.3M130.4 244.8L132.6 247.0M130.4 247.0L132.6 244.8M126.4 293.1L128.5 295.2M126.4 295.2L128.5 293.1M113.2 308.1L115.3 310.2M113.2 310.2L115.3 308.1M111.2 309.1L113.3 311.2M111.2 311.2L113.3 309.1M61.5 333.9L63.5 336.1M61.5 336.1L63.5 333.9M96.7 337.4L98.8 339.6M96.7 339.6L98.8 337.4M147.6 245.9L149.8 248.1M147.6 248.1L149.8 245.9M194.3 251.3L196.5 253.5M194.3 253.5L196.5 251.3M164.2 263.1L166.4 265.2M164.2 265.2L166.4 263.1M166.6 262.4L168.8 264.6M166.6 264.6L168.8 262.4M158.1 280.8L160.2 282.9M158.1 282.9L160.2 280.8M170.3 279.1L172.5 281.2M170.3 281.2L172.5 279.1M199.3 301.2L201.5 303.4M199.3 303.4L201.5 301.2M156.6 307.8L158.8 309.9M156.6 309.9L158.8 307.8M161.1 316.8L163.2 318.9M161.1 318.9L163.2 316.8M224.8 314.1L227.0 316.2M224.8 316.2L227.0 314.1M52.5 342.2L54.5 344.4M52.5 344.4L54.5 342.2M68.2 340.4L70.2 342.6M68.2 342.6L70.2 340.4M95.2 342.2L97.2 344.4M95.2 344.4L97.2 342.2M98.5 349.2L100.5 351.4M98.5 351.4L100.5 349.2M97.8 356.3L99.8 358.4M97.8 358.4L99.8 356.3M81.2 363.8L83.3 365.9M81.2 365.9L83.3 363.8M61.9 369.2L63.9 371.4M61.9 371.4L63.9 369.2M66.0 371.6L68.0 373.8M66.0 373.8L68.0 371.6M92.4 373.8L94.5 375.9M92.4 375.9L94.5 373.8M88.0 390.3L90.0 392.4M88.0 392.4L90.0 390.3M86.2 404.6L88.3 406.7M86.2 406.7L88.3 404.6M78.4 407.3L80.5 409.4M78.4 409.4L80.5 407.3M90.5 410.8L92.6 412.9M90.5 412.9L92.6 410.8M93.5 421.3L95.5 423.4M93.5 423.4L95.5 421.3M119.0 422.4L121.0 424.6M119.0 424.6L121.0 422.4M184.2 397.3L186.4 399.4M184.2 399.4L186.4 397.3M150.0 403.6L152.2 405.8M150.0 405.8L152.2 403.6M139.8 425.6L142.0 427.8M139.8 427.8L142.0 425.6M199.1 423.2L201.2 425.4M199.1 425.4L201.2 423.2" stroke="#222" stroke-width="0.7" fill="none"/>
<line x1="157.2" y1="316.8" x2="179.8" y2="422.7" stroke="#f00" stroke-width="2.9" stroke-linecap="round"/>
<g fill="none" stroke="#0a0aff" stroke-opacity="0.9" stroke-width="0.75">
<circle cx="157.1" cy="321.1" r="1.75"/><circle cx="158.1" cy="320.0" r="1.75"/><circle cx="157.5" cy="320.9" r="1.75"/><circle cx="157.7" cy="322.3" r="1.75"/><circle cx="158.6" cy="323.3" r="1.75"/><circle cx="158.3" cy="325.4" r="1.75"/><circle cx="158.2" cy="326.0" r="1.75"/><circle cx="159.4" cy="325.7" r="1.75"/><circle cx="159.4" cy="328.4" r="1.75"/><circle cx="159.7" cy="329.9" r="1.75"/><circle cx="159.8" cy="329.6" r="1.75"/><circle cx="161.5" cy="331.2" r="1.75"/><circle cx="159.6" cy="331.9" r="1.75"/><circle cx="159.6" cy="331.5" r="1.75"/><circle cx="161.3" cy="334.2" r="1.75"/><circle cx="160.3" cy="333.5" r="1.75"/><circle cx="161.8" cy="335.7" r="1.75"/><circle cx="161.3" cy="336.1" r="1.75"/><circle cx="161.7" cy="338.1" r="1.75"/><circle cx="163.1" cy="338.3" r="1.75"/><circle cx="160.3" cy="339.2" r="1.75"/><circle cx="160.9" cy="338.9" r="1.75"/><circle cx="161.6" cy="340.7" r="1.75"/><circle cx="160.4" cy="342.9" r="1.75"/><circle cx="162.6" cy="344.0" r="1.75"/><circle cx="162.8" cy="343.6" r="1.75"/><circle cx="161.7" cy="344.5" r="1.75"/><circle cx="162.2" cy="345.2" r="1.75"/><circle cx="164.5" cy="348.8" r="1.75"/><circle cx="163.5" cy="350.7" r="1.75"/><circle cx="164.7" cy="352.3" r="1.75"/><circle cx="163.9" cy="353.1" r="1.75"/><circle cx="166.1" cy="353.1" r="1.75"/><circle cx="165.0" cy="353.9" r="1.75"/><circle cx="166.6" cy="354.6" r="1.75"/><circle cx="168.0" cy="357.2" r="1.75"/><circle cx="166.5" cy="356.3" r="1.75"/><circle cx="166.9" cy="357.1" r="1.75"/><circle cx="165.2" cy="359.6" r="1.75"/><circle cx="166.2" cy="360.0" r="1.75"/><circle cx="168.0" cy="362.6" r="1.75"/><circle cx="168.0" cy="362.1" r="1.75"/><circle cx="168.1" cy="363.7" r="1.75"/><circle cx="166.8" cy="363.7" r="1.75"/><circle cx="168.4" cy="365.4" r="1.75"/><circle cx="166.4" cy="366.4" r="1.75"/><circle cx="168.5" cy="368.2" r="1.75"/><circle cx="169.1" cy="367.1" r="1.75"/><circle cx="168.3" cy="367.4" r="1.75"/><circle cx="167.8" cy="370.1" r="1.75"/><circle cx="168.2" cy="372.2" r="1.75"/><circle cx="169.4" cy="369.8" r="1.75"/><circle cx="169.9" cy="371.5" r="1.75"/><circle cx="169.5" cy="373.3" r="1.75"/><circle cx="169.6" cy="374.9" r="1.75"/><circle cx="168.3" cy="376.6" r="1.75"/><circle cx="169.3" cy="376.9" r="1.75"/><circle cx="170.6" cy="379.3" r="1.75"/><circle cx="171.1" cy="380.0" r="1.75"/><circle cx="170.4" cy="380.0" r="1.75"/><circle cx="170.4" cy="380.9" r="1.75"/><circle cx="170.2" cy="381.9" r="1.75"/><circle cx="172.4" cy="383.3" r="1.75"/><circle cx="172.1" cy="385.0" r="1.75"/><circle cx="171.8" cy="386.0" r="1.75"/><circle cx="170.6" cy="386.6" r="1.75"/><circle cx="171.8" cy="386.9" r="1.75"/><circle cx="171.0" cy="388.7" r="1.75"/><circle cx="172.6" cy="388.5" r="1.75"/><circle cx="172.3" cy="388.5" r="1.75"/><circle cx="174.0" cy="390.6" r="1.75"/><circle cx="172.6" cy="392.3" r="1.75"/><circle cx="172.5" cy="394.9" r="1.75"/><circle cx="174.9" cy="396.9" r="1.75"/><circle cx="173.4" cy="396.0" r="1.75"/><circle cx="175.3" cy="397.8" r="1.75"/><circle cx="174.7" cy="397.5" r="1.75"/><circle cx="175.4" cy="398.2" r="1.75"/><circle cx="176.4" cy="400.6" r="1.75"/><circle cx="175.5" cy="402.3" r="1.75"/><circle cx="177.7" cy="403.0" r="1.75"/><circle cx="176.8" cy="406.9" r="1.75"/><circle cx="176.9" cy="406.5" r="1.75"/><circle cx="176.3" cy="409.8" r="1.75"/><circle cx="178.5" cy="409.2" r="1.75"/><circle cx="176.3" cy="410.6" r="1.75"/><circle cx="178.3" cy="414.5" r="1.75"/><circle cx="177.4" cy="416.5" r="1.75"/><circle cx="178.2" cy="415.3" r="1.75"/><circle cx="179.7" cy="416.9" r="1.75"/><circle cx="178.8" cy="419.2" r="1.75"/><circle cx="178.1" cy="421.6" r="1.75"/><circle cx="181.2" cy="420.8" r="1.75"/>
</g>
<g fill="#f00" fill-opacity="0.95">
<circle cx="158.1" cy="320.9" r="1.0"/><circle cx="158.5" cy="323.0" r="1.0"/><circle cx="159.0" cy="325.1" r="1.0"/><circle cx="159.4" cy="327.1" r="1.0"/><circle cx="159.8" cy="329.2" r="1.0"/><circle cx="160.3" cy="331.2" r="1.0"/><circle cx="160.7" cy="333.3" r="1.0"/><circle cx="161.2" cy="335.4" r="1.0"/><circle cx="161.6" cy="337.4" r="1.0"/><circle cx="162.0" cy="339.5" r="1.0"/><circle cx="162.5" cy="341.6" r="1.0"/><circle cx="162.9" cy="343.6" r="1.0"/><circle cx="163.4" cy="345.7" r="1.0"/><circle cx="163.8" cy="347.7" r="1.0"/><circle cx="164.2" cy="349.8" r="1.0"/><circle cx="164.7" cy="351.9" r="1.0"/><circle cx="165.1" cy="353.9" r="1.0"/><circle cx="165.6" cy="356.0" r="1.0"/><circle cx="166.0" cy="358.0" r="1.0"/><circle cx="166.4" cy="360.1" r="1.0"/><circle cx="166.9" cy="362.2" r="1.0"/><circle cx="167.3" cy="364.2" r="1.0"/><circle cx="167.8" cy="366.3" r="1.0"/><circle cx="168.2" cy="368.4" r="1.0"/><circle cx="168.6" cy="370.4" r="1.0"/><circle cx="169.1" cy="372.5" r="1.0"/><circle cx="169.5" cy="374.5" r="1.0"/><circle cx="170.0" cy="376.6" r="1.0"/><circle cx="170.4" cy="378.7" r="1.0"/><circle cx="170.8" cy="380.7" r="1.0"/><circle cx="171.3" cy="382.8" r="1.0"/><circle cx="171.7" cy="384.9" r="1.0"/><circle cx="172.2" cy="386.9" r="1.0"/><circle cx="172.6" cy="389.0" r="1.0"/><circle cx="173.0" cy="391.0" r="1.0"/><circle cx="173.5" cy="393.1" r="1.0"/><circle cx="173.9" cy="395.2" r="1.0"/><circle cx="174.4" cy="397.2" r="1.0"/><circle cx="174.8" cy="399.3" r="1.0"/><circle cx="175.2" cy="401.4" r="1.0"/><circle cx="175.7" cy="403.4" r="1.0"/><circle cx="176.1" cy="405.5" r="1.0"/><circle cx="176.6" cy="407.5" r="1.0"/><circle cx="177.0" cy="409.6" r="1.0"/><circle cx="177.4" cy="411.7" r="1.0"/><circle cx="177.9" cy="413.7" r="1.0"/><circle cx="178.3" cy="415.8" r="1.0"/><circle cx="178.8" cy="417.8" r="1.0"/><circle cx="179.2" cy="419.9" r="1.0"/><circle cx="179.6" cy="422.0" r="1.0"/>
</g>
<line x1="111.5" y1="362.0" x2="217.4" y2="385.2" stroke="#f00" stroke-width="2.9" stroke-linecap="round"/>
<g fill="none" stroke="#0a0aff" stroke-opacity="0.9" stroke-width="0.75">
<circle cx="113.3" cy="361.1" r="1.75"/><circle cx="114.0" cy="362.8" r="1.75"/><circle cx="114.8" cy="361.8" r="1.75"/><circle cx="115.8" cy="363.1" r="1.75"/><circle cx="117.5" cy="364.4" r="1.75"/><circle cx="118.1" cy="362.7" r="1.75"/><circle cx="119.0" cy="363.9" r="1.75"/><circle cx="121.0" cy="363.4" r="1.75"/><circle cx="121.7" cy="365.8" r="1.75"/><circle cx="124.6" cy="365.5" r="1.75"/><circle cx="125.3" cy="365.3" r="1.75"/><circle cx="125.2" cy="365.8" r="1.75"/><circle cx="127.7" cy="364.8" r="1.75"/><circle cx="128.4" cy="366.5" r="1.75"/><circle cx="128.2" cy="364.1" r="1.75"/><circle cx="130.8" cy="365.4" r="1.75"/><circle cx="129.6" cy="368.9" r="1.75"/><circle cx="131.4" cy="367.1" r="1.75"/><circle cx="130.8" cy="368.0" r="1.75"/><circle cx="132.2" cy="366.9" r="1.75"/><circle cx="134.1" cy="367.3" r="1.75"/><circle cx="133.0" cy="366.8" r="1.75"/><circle cx="136.7" cy="367.1" r="1.75"/><circle cx="137.6" cy="367.4" r="1.75"/><circle cx="137.8" cy="367.2" r="1.75"/><circle cx="139.1" cy="369.0" r="1.75"/><circle cx="138.5" cy="367.8" r="1.75"/><circle cx="139.3" cy="368.7" r="1.75"/><circle cx="142.7" cy="368.4" r="1.75"/><circle cx="144.9" cy="368.5" r="1.75"/><circle cx="145.7" cy="369.1" r="1.75"/><circle cx="146.7" cy="371.2" r="1.75"/><circle cx="148.3" cy="371.3" r="1.75"/><circle cx="148.3" cy="369.6" r="1.75"/><circle cx="147.9" cy="370.5" r="1.75"/><circle cx="149.5" cy="369.5" r="1.75"/><circle cx="150.6" cy="370.9" r="1.75"/><circle cx="152.9" cy="371.4" r="1.75"/><circle cx="153.3" cy="371.2" r="1.75"/><circle cx="152.6" cy="374.5" r="1.75"/><circle cx="156.5" cy="371.4" r="1.75"/><circle cx="154.9" cy="371.4" r="1.75"/><circle cx="156.2" cy="372.1" r="1.75"/><circle cx="157.2" cy="373.9" r="1.75"/><circle cx="159.0" cy="372.8" r="1.75"/><circle cx="159.6" cy="372.1" r="1.75"/><circle cx="159.1" cy="372.6" r="1.75"/><circle cx="161.1" cy="373.3" r="1.75"/><circle cx="161.9" cy="372.3" r="1.75"/><circle cx="161.8" cy="371.9" r="1.75"/><circle cx="164.0" cy="373.6" r="1.75"/><circle cx="164.9" cy="373.7" r="1.75"/><circle cx="165.0" cy="374.8" r="1.75"/><circle cx="166.9" cy="376.3" r="1.75"/><circle cx="167.3" cy="374.8" r="1.75"/><circle cx="167.8" cy="374.8" r="1.75"/><circle cx="170.2" cy="374.0" r="1.75"/><circle cx="170.1" cy="373.8" r="1.75"/><circle cx="171.3" cy="376.2" r="1.75"/><circle cx="172.0" cy="375.1" r="1.75"/><circle cx="172.3" cy="377.0" r="1.75"/><circle cx="174.9" cy="374.7" r="1.75"/><circle cx="175.2" cy="378.5" r="1.75"/><circle cx="176.4" cy="376.4" r="1.75"/><circle cx="176.6" cy="376.4" r="1.75"/><circle cx="177.1" cy="376.2" r="1.75"/><circle cx="177.8" cy="375.5" r="1.75"/><circle cx="178.6" cy="376.6" r="1.75"/><circle cx="181.4" cy="378.2" r="1.75"/><circle cx="182.1" cy="377.4" r="1.75"/><circle cx="183.0" cy="378.5" r="1.75"/><circle cx="183.4" cy="376.3" r="1.75"/><circle cx="182.5" cy="378.7" r="1.75"/><circle cx="186.1" cy="376.8" r="1.75"/><circle cx="187.3" cy="376.8" r="1.75"/><circle cx="187.8" cy="378.8" r="1.75"/><circle cx="187.3" cy="380.4" r="1.75"/><circle cx="190.9" cy="377.0" r="1.75"/><circle cx="192.7" cy="378.6" r="1.75"/><circle cx="192.7" cy="379.5" r="1.75"/><circle cx="193.4" cy="379.8" r="1.75"/><circle cx="193.4" cy="381.6" r="1.75"/><circle cx="193.7" cy="380.8" r="1.75"/><circle cx="196.4" cy="380.2" r="1.75"/><circle cx="198.5" cy="380.9" r="1.75"/><circle cx="199.8" cy="381.4" r="1.75"/><circle cx="199.2" cy="382.0" r="1.75"/><circle cx="200.0" cy="381.1" r="1.75"/><circle cx="200.4" cy="382.6" r="1.75"/><circle cx="202.0" cy="380.7" r="1.75"/><circle cx="202.5" cy="382.3" r="1.75"/><circle cx="203.5" cy="381.5" r="1.75"/><circle cx="204.0" cy="383.3" r="1.75"/><circle cx="204.8" cy="381.2" r="1.75"/><circle cx="204.9" cy="382.2" r="1.75"/><circle cx="206.0" cy="381.9" r="1.75"/><circle cx="207.6" cy="383.1" r="1.75"/><circle cx="208.7" cy="382.4" r="1.75"/><circle cx="210.0" cy="382.4" r="1.75"/><circle cx="209.1" cy="382.3" r="1.75"/><circle cx="209.6" cy="384.3" r="1.75"/><circle cx="211.5" cy="385.7" r="1.75"/><circle cx="212.0" cy="384.9" r="1.75"/><circle cx="212.2" cy="384.1" r="1.75"/><circle cx="212.6" cy="385.7" r="1.75"/><circle cx="214.7" cy="384.2" r="1.75"/><circle cx="213.9" cy="383.1" r="1.75"/><circle cx="214.8" cy="384.5" r="1.75"/><circle cx="216.1" cy="385.3" r="1.75"/>
</g>
<g fill="#f00" fill-opacity="0.95">
<circle cx="113.6" cy="362.5" r="1.0"/><circle cx="115.6" cy="362.9" r="1.0"/><circle cx="117.7" cy="363.4" r="1.0"/><circle cx="119.8" cy="363.8" r="1.0"/><circle cx="121.8" cy="364.3" r="1.0"/><circle cx="123.9" cy="364.7" r="1.0"/><circle cx="125.9" cy="365.2" r="1.0"/><circle cx="128.0" cy="365.6" r="1.0"/><circle cx="130.1" cy="366.1" r="1.0"/><circle cx="132.1" cy="366.5" r="1.0"/><circle cx="134.2" cy="367.0" r="1.0"/><circle cx="136.3" cy="367.5" r="1.0"/><circle cx="138.3" cy="367.9" r="1.0"/><circle cx="140.4" cy="368.4" r="1.0"/><circle cx="142.5" cy="368.8" r="1.0"/><circle cx="144.5" cy="369.3" r="1.0"/><circle cx="146.6" cy="369.7" r="1.0"/><circle cx="148.6" cy="370.2" r="1.0"/><circle cx="150.7" cy="370.6" r="1.0"/><circle cx="152.8" cy="371.1" r="1.0"/><circle cx="154.8" cy="371.5" r="1.0"/><circle cx="156.9" cy="372.0" r="1.0"/><circle cx="159.0" cy="372.4" r="1.0"/><circle cx="161.0" cy="372.9" r="1.0"/><circle cx="163.1" cy="373.3" r="1.0"/><circle cx="165.1" cy="373.8" r="1.0"/><circle cx="167.2" cy="374.2" r="1.0"/><circle cx="169.3" cy="374.7" r="1.0"/><circle cx="171.3" cy="375.1" r="1.0"/><circle cx="173.4" cy="375.6" r="1.0"/><circle cx="175.5" cy="376.0" r="1.0"/><circle cx="177.5" cy="376.5" r="1.0"/><circle cx="179.6" cy="376.9" r="1.0"/><circle cx="181.6" cy="377.4" r="1.0"/><circle cx="183.7" cy="377.9" r="1.0"/><circle cx="185.8" cy="378.3" r="1.0"/><circle cx="187.8" cy="378.8" r="1.0"/><circle cx="189.9" cy="379.2" r="1.0"/><circle cx="192.0" cy="379.7" r="1.0"/><circle cx="194.0" cy="380.1" r="1.0"/><circle cx="196.1" cy="380.6" r="1.0"/><circle cx="198.2" cy="381.0" r="1.0"/><circle cx="200.2" cy="381.5" r="1.0"/><circle cx="202.3" cy="381.9" r="1.0"/><circle cx="204.3" cy="382.4" r="1.0"/><circle cx="206.4" cy="382.8" r="1.0"/><circle cx="208.5" cy="383.3" r="1.0"/><circle cx="210.5" cy="383.7" r="1.0"/><circle cx="212.6" cy="384.2" r="1.0"/><circle cx="214.7" cy="384.6" r="1.0"/><circle cx="216.7" cy="385.1" r="1.0"/>
</g>
<line x1="108.0" y1="398.7" x2="169.6" y2="386.8" stroke="#f00" stroke-width="2.9" stroke-linecap="round"/>
<g fill="none" stroke="#0a0aff" stroke-opacity="0.9" stroke-width="0.75">
<circle cx="108.6" cy="398.6" r="1.75"/><circle cx="109.6" cy="395.9" r="1.75"/><circle cx="111.1" cy="396.6" r="1.75"/><circle cx="112.9" cy="396.7" r="1.75"/><circle cx="114.7" cy="396.5" r="1.75"/><circle cx="116.0" cy="396.4" r="1.75"/><circle cx="116.3" cy="396.5" r="1.75"/><circle cx="117.9" cy="397.6" r="1.75"/><circle cx="118.9" cy="398.4" r="1.75"/><circle cx="117.3" cy="397.9" r="1.75"/><circle cx="120.2" cy="394.4" r="1.75"/><circle cx="121.0" cy="397.4" r="1.75"/><circle cx="120.7" cy="397.7" r="1.75"/><circle cx="122.0" cy="397.2" r="1.75"/><circle cx="121.7" cy="395.7" r="1.75"/><circle cx="122.7" cy="395.1" r="1.75"/><circle cx="125.9" cy="396.0" r="1.75"/><circle cx="125.4" cy="394.2" r="1.75"/><circle cx="128.2" cy="393.5" r="1.75"/><circle cx="128.8" cy="392.9" r="1.75"/><circle cx="131.9" cy="393.0" r="1.75"/><circle cx="132.9" cy="395.5" r="1.75"/><circle cx="135.6" cy="393.8" r="1.75"/><circle cx="135.5" cy="392.8" r="1.75"/><circle cx="135.4" cy="392.5" r="1.75"/><circle cx="137.3" cy="394.4" r="1.75"/><circle cx="138.2" cy="391.4" r="1.75"/><circle cx="138.4" cy="392.8" r="1.75"/><circle cx="138.4" cy="393.5" r="1.75"/><circle cx="140.3" cy="391.2" r="1.75"/><circle cx="140.3" cy="391.7" r="1.75"/><circle cx="142.7" cy="391.6" r="1.75"/><circle cx="142.9" cy="392.0" r="1.75"/><circle cx="144.9" cy="392.1" r="1.75"/><circle cx="147.1" cy="392.8" r="1.75"/><circle cx="146.7" cy="391.0" r="1.75"/><circle cx="148.5" cy="390.8" r="1.75"/><circle cx="150.1" cy="390.0" r="1.75"/><circle cx="151.1" cy="392.3" r="1.75"/><circle cx="150.9" cy="391.4" r="1.75"/><circle cx="153.2" cy="392.1" r="1.75"/><circle cx="153.1" cy="391.4" r="1.75"/><circle cx="152.8" cy="388.1" r="1.75"/><circle cx="155.0" cy="390.3" r="1.75"/><circle cx="155.2" cy="389.5" r="1.75"/><circle cx="155.9" cy="390.2" r="1.75"/><circle cx="158.5" cy="389.4" r="1.75"/><circle cx="158.5" cy="389.7" r="1.75"/><circle cx="160.0" cy="389.6" r="1.75"/><circle cx="160.0" cy="388.4" r="1.75"/><circle cx="160.0" cy="389.1" r="1.75"/><circle cx="161.9" cy="388.6" r="1.75"/><circle cx="162.5" cy="389.6" r="1.75"/><circle cx="163.8" cy="388.8" r="1.75"/><circle cx="164.8" cy="387.5" r="1.75"/><circle cx="164.2" cy="386.1" r="1.75"/><circle cx="166.2" cy="386.5" r="1.75"/><circle cx="166.1" cy="388.1" r="1.75"/><circle cx="168.4" cy="387.2" r="1.75"/><circle cx="167.6" cy="387.0" r="1.75"/><circle cx="169.9" cy="386.3" r="1.75"/>
</g>
<g fill="#f00" fill-opacity="0.95">
<circle cx="108.0" cy="398.7" r="1.0"/><circle cx="110.0" cy="398.3" r="1.0"/><circle cx="112.1" cy="397.9" r="1.0"/><circle cx="114.2" cy="397.5" r="1.0"/><circle cx="116.3" cy="397.1" r="1.0"/><circle cx="118.4" cy="396.7" r="1.0"/><circle cx="120.4" cy="396.3" r="1.0"/><circle cx="122.5" cy="395.9" r="1.0"/><circle cx="124.6" cy="395.5" r="1.0"/><circle cx="126.7" cy="395.1" r="1.0"/><circle cx="128.7" cy="394.7" r="1.0"/><circle cx="130.8" cy="394.3" r="1.0"/><circle cx="132.9" cy="393.9" r="1.0"/><circle cx="135.0" cy="393.5" r="1.0"/><circle cx="137.0" cy="393.1" r="1.0"/><circle cx="139.1" cy="392.7" r="1.0"/><circle cx="141.2" cy="392.3" r="1.0"/><circle cx="143.3" cy="391.9" r="1.0"/><circle cx="145.3" cy="391.5" r="1.0"/><circle cx="147.4" cy="391.1" r="1.0"/><circle cx="149.5" cy="390.7" r="1.0"/><circle cx="151.6" cy="390.3" r="1.0"/><circle cx="153.6" cy="389.9" r="1.0"/><circle cx="155.7" cy="389.5" r="1.0"/><circle cx="157.8" cy="389.1" r="1.0"/><circle cx="159.9" cy="388.7" r="1.0"/><circle cx="162.0" cy="388.3" r="1.0"/><circle cx="164.0" cy="387.9" r="1.0"/><circle cx="166.1" cy="387.5" r="1.0"/><circle cx="168.2" cy="387.1" r="1.0"/>
</g>
<line x1="40.9" y1="245.5" x2="40.9" y2="431.2" stroke="#b4b4b4" stroke-width="1.3" stroke-linecap="square"/>
<line x1="40.9" y1="245.5" x2="226.7" y2="245.5" stroke="#adadad" stroke-width="0.9" stroke-linecap="square"/>
<line x1="226.7" y1="245.5" x2="226.7" y2="431.2" stroke="#969696" stroke-width="0.85" stroke-linecap="square"/>
<line x1="40.9" y1="431.2" x2="226.7" y2="431.2" stroke="#adadad" stroke-width="0.9" stroke-linecap="square"/>
<path d="M40.9 431.2V429.3M40.9 245.5V247.4M87.3 431.2V429.3M87.3 245.5V247.4M133.8 431.2V429.3M133.8 245.5V247.4M180.2 431.2V429.3M180.2 245.5V247.4M226.7 431.2V429.3M226.7 245.5V247.4M40.9 431.2H42.8M226.7 431.2H224.8M40.9 412.6H42.8M226.7 412.6H224.8M40.9 394.1H42.8M226.7 394.1H224.8M40.9 375.5H42.8M226.7 375.5H224.8M40.9 356.9H42.8M226.7 356.9H224.8M40.9 338.4H42.8M226.7 338.4H224.8M40.9 319.8H42.8M226.7 319.8H224.8M40.9 301.2H42.8M226.7 301.2H224.8M40.9 282.6H42.8M226.7 282.6H224.8M40.9 264.1H42.8M226.7 264.1H224.8M40.9 245.5H42.8M226.7 245.5H224.8" stroke="#a0a0a0" stroke-width="0.75" fill="none"/>
<g font-family='"Liberation Sans", Arial, sans-serif' font-size="7.09" fill="#111" stroke="#111" stroke-width="0.2">
<text x="40.9" y="439.4" text-anchor="middle">-1000</text>
<text x="87.3" y="439.4" text-anchor="middle">-500</text>
<text x="133.8" y="439.4" text-anchor="middle">0</text>
<text x="180.2" y="439.4" text-anchor="middle">500</text>
<text x="226.7" y="439.4" text-anchor="middle">1000</text>
<text x="38.7" y="433.5" text-anchor="end">-1000</text>
<text x="38.7" y="414.9" text-anchor="end">-800</text>
<text x="38.7" y="396.3" text-anchor="end">-600</text>
<text x="38.7" y="377.8" text-anchor="end">-400</text>
<text x="38.7" y="359.2" text-anchor="end">-200</text>
<text x="38.7" y="340.6" text-anchor="end">0</text>
<text x="38.7" y="322.0" text-anchor="end">200</text>
<text x="38.7" y="303.5" text-anchor="end">400</text>
<text x="38.7" y="284.9" text-anchor="end">600</text>
<text x="38.7" y="266.3" text-anchor="end">800</text>
<text x="38.7" y="247.8" text-anchor="end">1000</text>
</g>
<text x="133.3" y="239.3" text-anchor="middle" font-family='"Liberation Sans", Arial, sans-serif' font-size="11.10" fill="#111" stroke="#111" stroke-width="0.2">(c) Sensor 3</text>
<text x="133.8" y="454.1" text-anchor="middle" font-family='"Liberation Sans", Arial, sans-serif' font-size="11.05" fill="#111" stroke="#111" stroke-width="0.2">X position</text>
<text transform="translate(14.9 339.0) rotate(-90)" text-anchor="middle" font-family='"Liberation Sans", Arial, sans-serif' font-size="11.05" fill="#111" stroke="#111" stroke-width="0.2">Y position</text>
</g>
<g id="plot-d">
<line x1="466.5" y1="316.1" x2="489.4" y2="423.7" stroke="#f00" stroke-width="2.9" stroke-linecap="round"/>
<g fill="none" stroke="#0a0aff" stroke-opacity="0.9" stroke-width="0.75">
<circle cx="467.1" cy="320.5" r="1.75"/><circle cx="468.1" cy="319.3" r="1.75"/><circle cx="467.2" cy="319.5" r="1.75"/><circle cx="468.0" cy="320.5" r="1.75"/><circle cx="467.4" cy="321.9" r="1.75"/><circle cx="468.5" cy="323.2" r="1.75"/><circle cx="468.5" cy="322.5" r="1.75"/><circle cx="468.3" cy="323.9" r="1.75"/><circle cx="468.3" cy="324.7" r="1.75"/><circle cx="468.7" cy="325.8" r="1.75"/><circle cx="468.0" cy="324.1" r="1.75"/><circle cx="468.5" cy="326.9" r="1.75"/><circle cx="469.1" cy="325.9" r="1.75"/><circle cx="470.0" cy="328.2" r="1.75"/><circle cx="469.5" cy="330.0" r="1.75"/><circle cx="469.5" cy="328.7" r="1.75"/><circle cx="468.4" cy="329.3" r="1.75"/><circle cx="469.4" cy="330.6" r="1.75"/><circle cx="469.7" cy="331.8" r="1.75"/><circle cx="469.4" cy="332.2" r="1.75"/><circle cx="469.8" cy="334.0" r="1.75"/><circle cx="470.2" cy="332.6" r="1.75"/><circle cx="470.4" cy="333.2" r="1.75"/><circle cx="469.6" cy="333.6" r="1.75"/><circle cx="469.4" cy="336.0" r="1.75"/><circle cx="470.3" cy="336.3" r="1.75"/><circle cx="470.7" cy="336.2" r="1.75"/><circle cx="471.0" cy="337.0" r="1.75"/><circle cx="472.3" cy="338.6" r="1.75"/><circle cx="471.5" cy="339.0" r="1.75"/><circle cx="473.1" cy="339.9" r="1.75"/><circle cx="471.4" cy="338.6" r="1.75"/><circle cx="472.0" cy="340.8" r="1.75"/><circle cx="472.8" cy="341.7" r="1.75"/><circle cx="471.5" cy="343.3" r="1.75"/><circle cx="472.3" cy="341.4" r="1.75"/><circle cx="474.0" cy="342.6" r="1.75"/><circle cx="473.0" cy="343.9" r="1.75"/><circle cx="473.2" cy="345.4" r="1.75"/><circle cx="473.0" cy="345.9" r="1.75"/><circle cx="473.1" cy="345.7" r="1.75"/><circle cx="473.8" cy="346.7" r="1.75"/><circle cx="473.7" cy="348.1" r="1.75"/><circle cx="473.0" cy="349.2" r="1.75"/><circle cx="473.0" cy="348.2" r="1.75"/><circle cx="473.4" cy="350.8" r="1.75"/><circle cx="475.0" cy="350.5" r="1.75"/><circle cx="473.6" cy="351.6" r="1.75"/><circle cx="474.1" cy="352.0" r="1.75"/><circle cx="474.2" cy="353.7" r="1.75"/><circle cx="474.0" cy="353.7" r="1.75"/><circle cx="474.9" cy="354.1" r="1.75"/><circle cx="472.6" cy="355.1" r="1.75"/><circle cx="474.0" cy="356.0" r="1.75"/><circle cx="475.3" cy="355.6" r="1.75"/><circle cx="475.6" cy="356.7" r="1.75"/><circle cx="473.8" cy="357.6" r="1.75"/><circle cx="476.3" cy="356.4" r="1.75"/><circle cx="475.7" cy="359.2" r="1.75"/><circle cx="474.6" cy="359.8" r="1.75"/><circle cx="476.1" cy="360.4" r="1.75"/><circle cx="474.8" cy="359.4" r="1.75"/><circle cx="475.6" cy="360.0" r="1.75"/><circle cx="476.6" cy="362.4" r="1.75"/><circle cx="476.9" cy="363.3" r="1.75"/><circle cx="477.7" cy="364.3" r="1.75"/><circle cx="475.9" cy="364.5" r="1.75"/><circle cx="476.2" cy="363.8" r="1.75"/><circle cx="476.2" cy="365.3" r="1.75"/><circle cx="477.0" cy="366.8" r="1.75"/><circle cx="476.5" cy="367.6" r="1.75"/><circle cx="479.3" cy="367.9" r="1.75"/><circle cx="477.0" cy="368.6" r="1.75"/><circle cx="477.8" cy="368.8" r="1.75"/><circle cx="476.9" cy="368.6" r="1.75"/><circle cx="478.5" cy="371.3" r="1.75"/><circle cx="478.8" cy="371.2" r="1.75"/><circle cx="478.7" cy="370.2" r="1.75"/><circle cx="478.3" cy="372.9" r="1.75"/><circle cx="479.2" cy="372.6" r="1.75"/><circle cx="478.3" cy="374.1" r="1.75"/><circle cx="477.4" cy="374.4" r="1.75"/><circle cx="477.3" cy="375.1" r="1.75"/><circle cx="479.1" cy="375.5" r="1.75"/><circle cx="479.7" cy="375.9" r="1.75"/><circle cx="478.7" cy="377.0" r="1.75"/><circle cx="480.0" cy="378.4" r="1.75"/><circle cx="479.4" cy="378.7" r="1.75"/><circle cx="480.2" cy="379.2" r="1.75"/><circle cx="480.9" cy="380.5" r="1.75"/><circle cx="481.1" cy="380.2" r="1.75"/><circle cx="480.1" cy="381.6" r="1.75"/><circle cx="480.8" cy="381.7" r="1.75"/><circle cx="480.8" cy="382.9" r="1.75"/><circle cx="481.0" cy="384.2" r="1.75"/><circle cx="481.1" cy="385.0" r="1.75"/><circle cx="482.0" cy="384.4" r="1.75"/><circle cx="481.5" cy="385.4" r="1.75"/><circle cx="480.7" cy="385.4" r="1.75"/><circle cx="481.5" cy="386.3" r="1.75"/><circle cx="481.7" cy="387.0" r="1.75"/><circle cx="482.2" cy="388.3" r="1.75"/><circle cx="483.0" cy="388.0" r="1.75"/><circle cx="482.0" cy="389.2" r="1.75"/><circle cx="482.4" cy="390.2" r="1.75"/><circle cx="482.4" cy="391.5" r="1.75"/><circle cx="484.0" cy="392.0" r="1.75"/><circle cx="482.0" cy="391.6" r="1.75"/><circle cx="482.5" cy="392.6" r="1.75"/><circle cx="483.9" cy="394.5" r="1.75"/><circle cx="482.9" cy="393.9" r="1.75"/><circle cx="483.0" cy="393.0" r="1.75"/><circle cx="482.6" cy="396.1" r="1.75"/><circle cx="484.7" cy="395.6" r="1.75"/><circle cx="482.7" cy="396.6" r="1.75"/><circle cx="483.8" cy="398.5" r="1.75"/><circle cx="484.3" cy="398.1" r="1.75"/><circle cx="483.4" cy="400.1" r="1.75"/><circle cx="484.8" cy="399.4" r="1.75"/><circle cx="484.8" cy="400.6" r="1.75"/><circle cx="485.6" cy="400.6" r="1.75"/><circle cx="484.6" cy="401.8" r="1.75"/><circle cx="484.6" cy="403.3" r="1.75"/><circle cx="485.0" cy="403.0" r="1.75"/><circle cx="484.5" cy="402.9" r="1.75"/><circle cx="485.8" cy="404.5" r="1.75"/><circle cx="486.8" cy="406.0" r="1.75"/><circle cx="485.2" cy="406.3" r="1.75"/><circle cx="484.9" cy="406.1" r="1.75"/><circle cx="485.8" cy="408.0" r="1.75"/><circle cx="486.6" cy="407.5" r="1.75"/><circle cx="485.3" cy="408.9" r="1.75"/><circle cx="485.6" cy="409.6" r="1.75"/><circle cx="486.2" cy="410.2" r="1.75"/><circle cx="486.9" cy="411.3" r="1.75"/><circle cx="487.1" cy="412.4" r="1.75"/><circle cx="484.8" cy="411.8" r="1.75"/><circle cx="488.1" cy="412.0" r="1.75"/><circle cx="486.9" cy="412.4" r="1.75"/><circle cx="487.9" cy="414.5" r="1.75"/><circle cx="486.1" cy="413.7" r="1.75"/><circle cx="488.3" cy="416.7" r="1.75"/><circle cx="488.8" cy="415.9" r="1.75"/><circle cx="488.6" cy="416.5" r="1.75"/><circle cx="488.6" cy="418.1" r="1.75"/><circle cx="488.9" cy="418.2" r="1.75"/><circle cx="488.5" cy="419.7" r="1.75"/><circle cx="487.2" cy="420.0" r="1.75"/><circle cx="489.6" cy="420.5" r="1.75"/><circle cx="488.8" cy="421.3" r="1.75"/><circle cx="489.6" cy="422.8" r="1.75"/><circle cx="488.5" cy="422.2" r="1.75"/><circle cx="489.5" cy="422.8" r="1.75"/><circle cx="491.0" cy="422.2" r="1.75"/>
</g>
<g fill="#f00" fill-opacity="0.95">
<circle cx="467.4" cy="320.2" r="1.0"/><circle cx="467.9" cy="322.3" r="1.0"/><circle cx="468.3" cy="324.3" r="1.0"/><circle cx="468.7" cy="326.4" r="1.0"/><circle cx="469.2" cy="328.4" r="1.0"/><circle cx="469.6" cy="330.5" r="1.0"/><circle cx="470.0" cy="332.6" r="1.0"/><circle cx="470.5" cy="334.6" r="1.0"/><circle cx="470.9" cy="336.7" r="1.0"/><circle cx="471.3" cy="338.7" r="1.0"/><circle cx="471.8" cy="340.8" r="1.0"/><circle cx="472.2" cy="342.8" r="1.0"/><circle cx="472.7" cy="344.9" r="1.0"/><circle cx="473.1" cy="346.9" r="1.0"/><circle cx="473.5" cy="349.0" r="1.0"/><circle cx="474.0" cy="351.1" r="1.0"/><circle cx="474.4" cy="353.1" r="1.0"/><circle cx="474.8" cy="355.2" r="1.0"/><circle cx="475.3" cy="357.2" r="1.0"/><circle cx="475.7" cy="359.3" r="1.0"/><circle cx="476.2" cy="361.3" r="1.0"/><circle cx="476.6" cy="363.4" r="1.0"/><circle cx="477.0" cy="365.5" r="1.0"/><circle cx="477.5" cy="367.5" r="1.0"/><circle cx="477.9" cy="369.6" r="1.0"/><circle cx="478.3" cy="371.6" r="1.0"/><circle cx="478.8" cy="373.7" r="1.0"/><circle cx="479.2" cy="375.7" r="1.0"/><circle cx="479.7" cy="377.8" r="1.0"/><circle cx="480.1" cy="379.8" r="1.0"/><circle cx="480.5" cy="381.9" r="1.0"/><circle cx="481.0" cy="384.0" r="1.0"/><circle cx="481.4" cy="386.0" r="1.0"/><circle cx="481.8" cy="388.1" r="1.0"/><circle cx="482.3" cy="390.1" r="1.0"/><circle cx="482.7" cy="392.2" r="1.0"/><circle cx="483.2" cy="394.2" r="1.0"/><circle cx="483.6" cy="396.3" r="1.0"/><circle cx="484.0" cy="398.4" r="1.0"/><circle cx="484.5" cy="400.4" r="1.0"/><circle cx="484.9" cy="402.5" r="1.0"/><circle cx="485.3" cy="404.5" r="1.0"/><circle cx="485.8" cy="406.6" r="1.0"/><circle cx="486.2" cy="408.6" r="1.0"/><circle cx="486.7" cy="410.7" r="1.0"/><circle cx="487.1" cy="412.7" r="1.0"/><circle cx="487.5" cy="414.8" r="1.0"/><circle cx="488.0" cy="416.9" r="1.0"/><circle cx="488.4" cy="418.9" r="1.0"/><circle cx="488.8" cy="421.0" r="1.0"/><circle cx="489.3" cy="423.0" r="1.0"/>
</g>
<line x1="420.2" y1="362.1" x2="527.6" y2="385.7" stroke="#f00" stroke-width="2.9" stroke-linecap="round"/>
<g fill="none" stroke="#0a0aff" stroke-opacity="0.9" stroke-width="0.75">
<circle cx="422.1" cy="362.6" r="1.75"/><circle cx="423.8" cy="363.6" r="1.75"/><circle cx="424.9" cy="363.0" r="1.75"/><circle cx="425.4" cy="363.5" r="1.75"/><circle cx="426.4" cy="363.6" r="1.75"/><circle cx="425.6" cy="362.1" r="1.75"/><circle cx="428.2" cy="364.2" r="1.75"/><circle cx="428.8" cy="365.1" r="1.75"/><circle cx="429.5" cy="363.9" r="1.75"/><circle cx="429.7" cy="362.7" r="1.75"/><circle cx="430.1" cy="364.7" r="1.75"/><circle cx="430.0" cy="364.2" r="1.75"/><circle cx="431.2" cy="364.2" r="1.75"/><circle cx="432.7" cy="364.6" r="1.75"/><circle cx="434.1" cy="364.7" r="1.75"/><circle cx="434.8" cy="365.2" r="1.75"/><circle cx="433.9" cy="365.9" r="1.75"/><circle cx="435.3" cy="364.5" r="1.75"/><circle cx="436.8" cy="366.1" r="1.75"/><circle cx="436.9" cy="365.8" r="1.75"/><circle cx="438.6" cy="365.3" r="1.75"/><circle cx="438.5" cy="365.1" r="1.75"/><circle cx="440.6" cy="366.0" r="1.75"/><circle cx="438.8" cy="365.9" r="1.75"/><circle cx="442.1" cy="366.4" r="1.75"/><circle cx="443.0" cy="366.9" r="1.75"/><circle cx="442.8" cy="367.1" r="1.75"/><circle cx="442.5" cy="366.3" r="1.75"/><circle cx="444.0" cy="367.8" r="1.75"/><circle cx="444.9" cy="367.6" r="1.75"/><circle cx="445.7" cy="368.5" r="1.75"/><circle cx="447.7" cy="368.8" r="1.75"/><circle cx="447.2" cy="368.3" r="1.75"/><circle cx="447.3" cy="368.4" r="1.75"/><circle cx="447.6" cy="368.2" r="1.75"/><circle cx="449.2" cy="368.0" r="1.75"/><circle cx="450.6" cy="368.1" r="1.75"/><circle cx="451.6" cy="369.9" r="1.75"/><circle cx="451.1" cy="368.4" r="1.75"/><circle cx="452.5" cy="370.0" r="1.75"/><circle cx="451.8" cy="370.5" r="1.75"/><circle cx="454.3" cy="369.7" r="1.75"/><circle cx="454.7" cy="369.2" r="1.75"/><circle cx="453.9" cy="369.5" r="1.75"/><circle cx="455.6" cy="370.4" r="1.75"/><circle cx="457.6" cy="371.1" r="1.75"/><circle cx="458.5" cy="370.4" r="1.75"/><circle cx="458.5" cy="370.4" r="1.75"/><circle cx="458.1" cy="370.7" r="1.75"/><circle cx="458.8" cy="369.9" r="1.75"/><circle cx="459.4" cy="371.1" r="1.75"/><circle cx="461.8" cy="370.4" r="1.75"/><circle cx="462.5" cy="372.0" r="1.75"/><circle cx="462.6" cy="371.7" r="1.75"/><circle cx="463.7" cy="372.0" r="1.75"/><circle cx="464.9" cy="372.2" r="1.75"/><circle cx="465.6" cy="372.6" r="1.75"/><circle cx="464.5" cy="371.5" r="1.75"/><circle cx="468.7" cy="372.9" r="1.75"/><circle cx="468.1" cy="373.4" r="1.75"/><circle cx="469.0" cy="372.5" r="1.75"/><circle cx="469.3" cy="373.5" r="1.75"/><circle cx="470.6" cy="373.8" r="1.75"/><circle cx="471.1" cy="372.9" r="1.75"/><circle cx="472.4" cy="374.2" r="1.75"/><circle cx="472.5" cy="374.1" r="1.75"/><circle cx="472.4" cy="374.1" r="1.75"/><circle cx="472.9" cy="375.1" r="1.75"/><circle cx="474.7" cy="374.0" r="1.75"/><circle cx="475.0" cy="374.3" r="1.75"/><circle cx="476.3" cy="373.6" r="1.75"/><circle cx="476.1" cy="375.5" r="1.75"/><circle cx="476.9" cy="373.7" r="1.75"/><circle cx="477.2" cy="376.0" r="1.75"/><circle cx="478.8" cy="374.5" r="1.75"/><circle cx="478.7" cy="375.6" r="1.75"/><circle cx="480.0" cy="374.9" r="1.75"/><circle cx="480.2" cy="374.0" r="1.75"/><circle cx="481.4" cy="375.0" r="1.75"/><circle cx="482.8" cy="375.9" r="1.75"/><circle cx="481.4" cy="375.9" r="1.75"/><circle cx="483.2" cy="375.7" r="1.75"/><circle cx="484.4" cy="375.6" r="1.75"/><circle cx="484.3" cy="376.1" r="1.75"/><circle cx="485.6" cy="374.5" r="1.75"/><circle cx="486.5" cy="375.8" r="1.75"/><circle cx="487.2" cy="376.6" r="1.75"/><circle cx="488.0" cy="376.2" r="1.75"/><circle cx="488.7" cy="376.5" r="1.75"/><circle cx="489.7" cy="376.9" r="1.75"/><circle cx="491.1" cy="376.5" r="1.75"/><circle cx="491.5" cy="377.2" r="1.75"/><circle cx="491.4" cy="378.5" r="1.75"/><circle cx="492.7" cy="376.7" r="1.75"/><circle cx="494.5" cy="379.0" r="1.75"/><circle cx="493.1" cy="377.2" r="1.75"/><circle cx="494.5" cy="378.6" r="1.75"/><circle cx="494.0" cy="379.0" r="1.75"/><circle cx="496.5" cy="379.2" r="1.75"/><circle cx="498.1" cy="378.4" r="1.75"/><circle cx="497.6" cy="378.8" r="1.75"/><circle cx="497.9" cy="380.3" r="1.75"/><circle cx="499.3" cy="378.2" r="1.75"/><circle cx="500.4" cy="380.3" r="1.75"/><circle cx="500.3" cy="379.1" r="1.75"/><circle cx="501.6" cy="379.6" r="1.75"/><circle cx="502.5" cy="380.4" r="1.75"/><circle cx="503.3" cy="380.8" r="1.75"/><circle cx="503.5" cy="380.1" r="1.75"/><circle cx="504.1" cy="381.4" r="1.75"/><circle cx="505.1" cy="380.9" r="1.75"/><circle cx="504.6" cy="380.1" r="1.75"/><circle cx="506.1" cy="380.3" r="1.75"/><circle cx="507.2" cy="381.0" r="1.75"/><circle cx="506.3" cy="381.3" r="1.75"/><circle cx="507.2" cy="379.8" r="1.75"/><circle cx="508.0" cy="382.5" r="1.75"/><circle cx="508.6" cy="381.2" r="1.75"/><circle cx="509.0" cy="381.6" r="1.75"/><circle cx="510.8" cy="380.5" r="1.75"/><circle cx="511.1" cy="383.0" r="1.75"/><circle cx="512.5" cy="381.0" r="1.75"/><circle cx="513.1" cy="381.0" r="1.75"/><circle cx="513.4" cy="381.7" r="1.75"/><circle cx="512.9" cy="381.9" r="1.75"/><circle cx="514.7" cy="383.9" r="1.75"/><circle cx="513.9" cy="382.8" r="1.75"/><circle cx="516.2" cy="383.2" r="1.75"/><circle cx="516.8" cy="383.5" r="1.75"/><circle cx="517.3" cy="383.2" r="1.75"/><circle cx="517.2" cy="383.2" r="1.75"/><circle cx="518.0" cy="383.3" r="1.75"/><circle cx="519.1" cy="385.1" r="1.75"/><circle cx="520.5" cy="384.5" r="1.75"/><circle cx="520.4" cy="386.2" r="1.75"/><circle cx="522.1" cy="384.4" r="1.75"/><circle cx="521.2" cy="384.9" r="1.75"/><circle cx="523.0" cy="384.5" r="1.75"/><circle cx="522.3" cy="385.4" r="1.75"/><circle cx="524.7" cy="385.0" r="1.75"/><circle cx="524.8" cy="384.4" r="1.75"/><circle cx="525.8" cy="384.3" r="1.75"/><circle cx="525.7" cy="385.4" r="1.75"/><circle cx="526.9" cy="385.3" r="1.75"/><circle cx="527.6" cy="384.9" r="1.75"/>
</g>
<g fill="#f00" fill-opacity="0.95">
<circle cx="424.3" cy="363.0" r="1.0"/><circle cx="426.3" cy="363.4" r="1.0"/><circle cx="428.4" cy="363.9" r="1.0"/><circle cx="430.5" cy="364.3" r="1.0"/><circle cx="432.5" cy="364.8" r="1.0"/><circle cx="434.6" cy="365.2" r="1.0"/><circle cx="436.6" cy="365.7" r="1.0"/><circle cx="438.7" cy="366.1" r="1.0"/><circle cx="440.7" cy="366.6" r="1.0"/><circle cx="442.8" cy="367.0" r="1.0"/><circle cx="444.8" cy="367.5" r="1.0"/><circle cx="446.9" cy="367.9" r="1.0"/><circle cx="448.9" cy="368.4" r="1.0"/><circle cx="451.0" cy="368.8" r="1.0"/><circle cx="453.0" cy="369.3" r="1.0"/><circle cx="455.1" cy="369.7" r="1.0"/><circle cx="457.1" cy="370.2" r="1.0"/><circle cx="459.2" cy="370.6" r="1.0"/><circle cx="461.2" cy="371.1" r="1.0"/><circle cx="463.3" cy="371.5" r="1.0"/><circle cx="465.3" cy="372.0" r="1.0"/><circle cx="467.4" cy="372.4" r="1.0"/><circle cx="469.4" cy="372.9" r="1.0"/><circle cx="471.5" cy="373.3" r="1.0"/><circle cx="473.5" cy="373.8" r="1.0"/><circle cx="475.6" cy="374.2" r="1.0"/><circle cx="477.6" cy="374.7" r="1.0"/><circle cx="479.7" cy="375.1" r="1.0"/><circle cx="481.8" cy="375.6" r="1.0"/><circle cx="483.8" cy="376.1" r="1.0"/><circle cx="485.9" cy="376.5" r="1.0"/><circle cx="487.9" cy="377.0" r="1.0"/><circle cx="490.0" cy="377.4" r="1.0"/><circle cx="492.0" cy="377.9" r="1.0"/><circle cx="494.1" cy="378.3" r="1.0"/><circle cx="496.1" cy="378.8" r="1.0"/><circle cx="498.2" cy="379.2" r="1.0"/><circle cx="500.2" cy="379.7" r="1.0"/><circle cx="502.3" cy="380.1" r="1.0"/><circle cx="504.3" cy="380.6" r="1.0"/><circle cx="506.4" cy="381.0" r="1.0"/><circle cx="508.4" cy="381.5" r="1.0"/><circle cx="510.5" cy="381.9" r="1.0"/><circle cx="512.5" cy="382.4" r="1.0"/><circle cx="514.6" cy="382.8" r="1.0"/><circle cx="516.6" cy="383.3" r="1.0"/><circle cx="518.7" cy="383.7" r="1.0"/><circle cx="520.7" cy="384.2" r="1.0"/><circle cx="522.8" cy="384.6" r="1.0"/><circle cx="524.8" cy="385.1" r="1.0"/><circle cx="526.9" cy="385.5" r="1.0"/>
</g>
<line x1="416.6" y1="399.4" x2="479.1" y2="387.3" stroke="#f00" stroke-width="2.9" stroke-linecap="round"/>
<g fill="none" stroke="#0a0aff" stroke-opacity="0.9" stroke-width="0.75">
<circle cx="417.1" cy="399.0" r="1.75"/><circle cx="416.6" cy="399.1" r="1.75"/><circle cx="418.9" cy="397.3" r="1.75"/><circle cx="419.2" cy="399.0" r="1.75"/><circle cx="419.9" cy="398.6" r="1.75"/><circle cx="421.1" cy="398.1" r="1.75"/><circle cx="422.0" cy="398.6" r="1.75"/><circle cx="426.5" cy="397.8" r="1.75"/><circle cx="425.4" cy="398.1" r="1.75"/><circle cx="427.3" cy="398.3" r="1.75"/><circle cx="427.2" cy="397.0" r="1.75"/><circle cx="430.4" cy="397.7" r="1.75"/><circle cx="430.0" cy="397.1" r="1.75"/><circle cx="430.7" cy="396.1" r="1.75"/><circle cx="433.5" cy="397.0" r="1.75"/><circle cx="432.2" cy="396.6" r="1.75"/><circle cx="434.9" cy="396.5" r="1.75"/><circle cx="435.9" cy="395.3" r="1.75"/><circle cx="435.9" cy="395.5" r="1.75"/><circle cx="437.8" cy="395.4" r="1.75"/><circle cx="441.6" cy="394.4" r="1.75"/><circle cx="442.2" cy="394.7" r="1.75"/><circle cx="442.3" cy="395.0" r="1.75"/><circle cx="444.0" cy="394.4" r="1.75"/><circle cx="443.6" cy="395.2" r="1.75"/><circle cx="445.0" cy="394.0" r="1.75"/><circle cx="445.7" cy="394.4" r="1.75"/><circle cx="448.5" cy="392.8" r="1.75"/><circle cx="448.0" cy="393.3" r="1.75"/><circle cx="450.5" cy="393.6" r="1.75"/><circle cx="450.0" cy="391.7" r="1.75"/><circle cx="451.3" cy="392.5" r="1.75"/><circle cx="452.8" cy="393.2" r="1.75"/><circle cx="452.2" cy="391.9" r="1.75"/><circle cx="452.9" cy="392.1" r="1.75"/><circle cx="453.9" cy="392.7" r="1.75"/><circle cx="456.5" cy="391.8" r="1.75"/><circle cx="457.4" cy="390.6" r="1.75"/><circle cx="458.3" cy="390.9" r="1.75"/><circle cx="458.8" cy="390.5" r="1.75"/><circle cx="459.9" cy="390.6" r="1.75"/><circle cx="461.9" cy="390.7" r="1.75"/><circle cx="461.0" cy="390.9" r="1.75"/><circle cx="461.5" cy="390.9" r="1.75"/><circle cx="463.3" cy="390.3" r="1.75"/><circle cx="464.8" cy="390.7" r="1.75"/><circle cx="466.7" cy="389.3" r="1.75"/><circle cx="465.5" cy="389.4" r="1.75"/><circle cx="465.4" cy="390.2" r="1.75"/><circle cx="468.3" cy="389.4" r="1.75"/><circle cx="467.7" cy="388.7" r="1.75"/><circle cx="469.3" cy="389.5" r="1.75"/><circle cx="471.3" cy="389.5" r="1.75"/><circle cx="472.5" cy="389.0" r="1.75"/><circle cx="474.5" cy="387.9" r="1.75"/><circle cx="475.6" cy="388.1" r="1.75"/><circle cx="477.5" cy="386.3" r="1.75"/>
</g>
<g fill="#f00" fill-opacity="0.95">
<circle cx="416.6" cy="399.4" r="1.0"/><circle cx="418.7" cy="399.0" r="1.0"/><circle cx="420.8" cy="398.6" r="1.0"/><circle cx="422.9" cy="398.2" r="1.0"/><circle cx="424.9" cy="397.7" r="1.0"/><circle cx="427.0" cy="397.3" r="1.0"/><circle cx="429.1" cy="396.9" r="1.0"/><circle cx="431.2" cy="396.5" r="1.0"/><circle cx="433.3" cy="396.1" r="1.0"/><circle cx="435.3" cy="395.7" r="1.0"/><circle cx="437.4" cy="395.3" r="1.0"/><circle cx="439.5" cy="394.9" r="1.0"/><circle cx="441.6" cy="394.5" r="1.0"/><circle cx="443.7" cy="394.1" r="1.0"/><circle cx="445.8" cy="393.7" r="1.0"/><circle cx="447.8" cy="393.3" r="1.0"/><circle cx="449.9" cy="392.9" r="1.0"/><circle cx="452.0" cy="392.5" r="1.0"/><circle cx="454.1" cy="392.1" r="1.0"/><circle cx="456.2" cy="391.7" r="1.0"/><circle cx="458.2" cy="391.3" r="1.0"/><circle cx="460.3" cy="390.9" r="1.0"/><circle cx="462.4" cy="390.5" r="1.0"/><circle cx="464.5" cy="390.1" r="1.0"/><circle cx="466.6" cy="389.7" r="1.0"/><circle cx="468.7" cy="389.3" r="1.0"/><circle cx="470.7" cy="388.9" r="1.0"/><circle cx="472.8" cy="388.5" r="1.0"/><circle cx="474.9" cy="388.1" r="1.0"/><circle cx="477.0" cy="387.7" r="1.0"/><circle cx="479.1" cy="387.3" r="1.0"/>
</g>
<line x1="348.6" y1="243.6" x2="348.6" y2="432.4" stroke="#b0b0b0" stroke-width="0.9" stroke-linecap="square"/>
<line x1="348.6" y1="243.6" x2="537.0" y2="243.6" stroke="#b0b0b0" stroke-width="0.9" stroke-linecap="square"/>
<line x1="537.0" y1="243.6" x2="537.0" y2="432.4" stroke="#b8b8b8" stroke-width="1.3" stroke-linecap="square"/>
<line x1="348.6" y1="432.4" x2="537.0" y2="432.4" stroke="#c0c0c0" stroke-width="0.9" stroke-linecap="square"/>
<path d="M348.6 432.4V430.5M348.6 243.6V245.5M395.7 432.4V430.5M395.7 243.6V245.5M442.8 432.4V430.5M442.8 243.6V245.5M489.9 432.4V430.5M489.9 243.6V245.5M537.0 432.4V430.5M537.0 243.6V245.5M348.6 432.4H350.5M537.0 432.4H535.1M348.6 413.5H350.5M537.0 413.5H535.1M348.6 394.6H350.5M537.0 394.6H535.1M348.6 375.8H350.5M537.0 375.8H535.1M348.6 356.9H350.5M537.0 356.9H535.1M348.6 338.0H350.5M537.0 338.0H535.1M348.6 319.1H350.5M537.0 319.1H535.1M348.6 300.2H350.5M537.0 300.2H535.1M348.6 281.4H350.5M537.0 281.4H535.1M348.6 262.5H350.5M537.0 262.5H535.1M348.6 243.6H350.5M537.0 243.6H535.1" stroke="#a0a0a0" stroke-width="0.75" fill="none"/>
<g font-family='"Liberation Sans", Arial, sans-serif' font-size="7.00" fill="#111" stroke="#111" stroke-width="0.2">
<text x="348.6" y="440.7" text-anchor="middle">-1000</text>
<text x="395.7" y="440.7" text-anchor="middle">-500</text>
<text x="442.8" y="440.7" text-anchor="middle">0</text>
<text x="489.9" y="440.7" text-anchor="middle">500</text>
<text x="537.0" y="440.7" text-anchor="middle">1000</text>
<text x="346.4" y="434.7" text-anchor="end">-1000</text>
<text x="346.4" y="415.8" text-anchor="end">-800</text>
<text x="346.4" y="396.9" text-anchor="end">-600</text>
<text x="346.4" y="378.1" text-anchor="end">-400</text>
<text x="346.4" y="359.2" text-anchor="end">-200</text>
<text x="346.4" y="340.3" text-anchor="end">0</text>
<text x="346.4" y="321.4" text-anchor="end">200</text>
<text x="346.4" y="302.5" text-anchor="end">400</text>
<text x="346.4" y="283.7" text-anchor="end">600</text>
<text x="346.4" y="264.8" text-anchor="end">800</text>
<text x="346.4" y="245.9" text-anchor="end">1000</text>
</g>
<text x="440.3" y="237.3" text-anchor="middle" font-family='"Liberation Sans", Arial, sans-serif' font-size="10.85" fill="#111" stroke="#111" stroke-width="0.2">(d) Fusion Center</text>
<text x="442.8" y="451.6" text-anchor="middle" font-family='"Liberation Sans", Arial, sans-serif' font-size="7.05" fill="#111" stroke="#111" stroke-width="0.2">X position</text>
<text transform="translate(322.6 338.6) rotate(-90)" text-anchor="middle" font-family='"Liberation Sans", Arial, sans-serif' font-size="7.05" fill="#111" stroke="#111" stroke-width="0.2">Y position</text>
</g>
</svg>
</body></html>
